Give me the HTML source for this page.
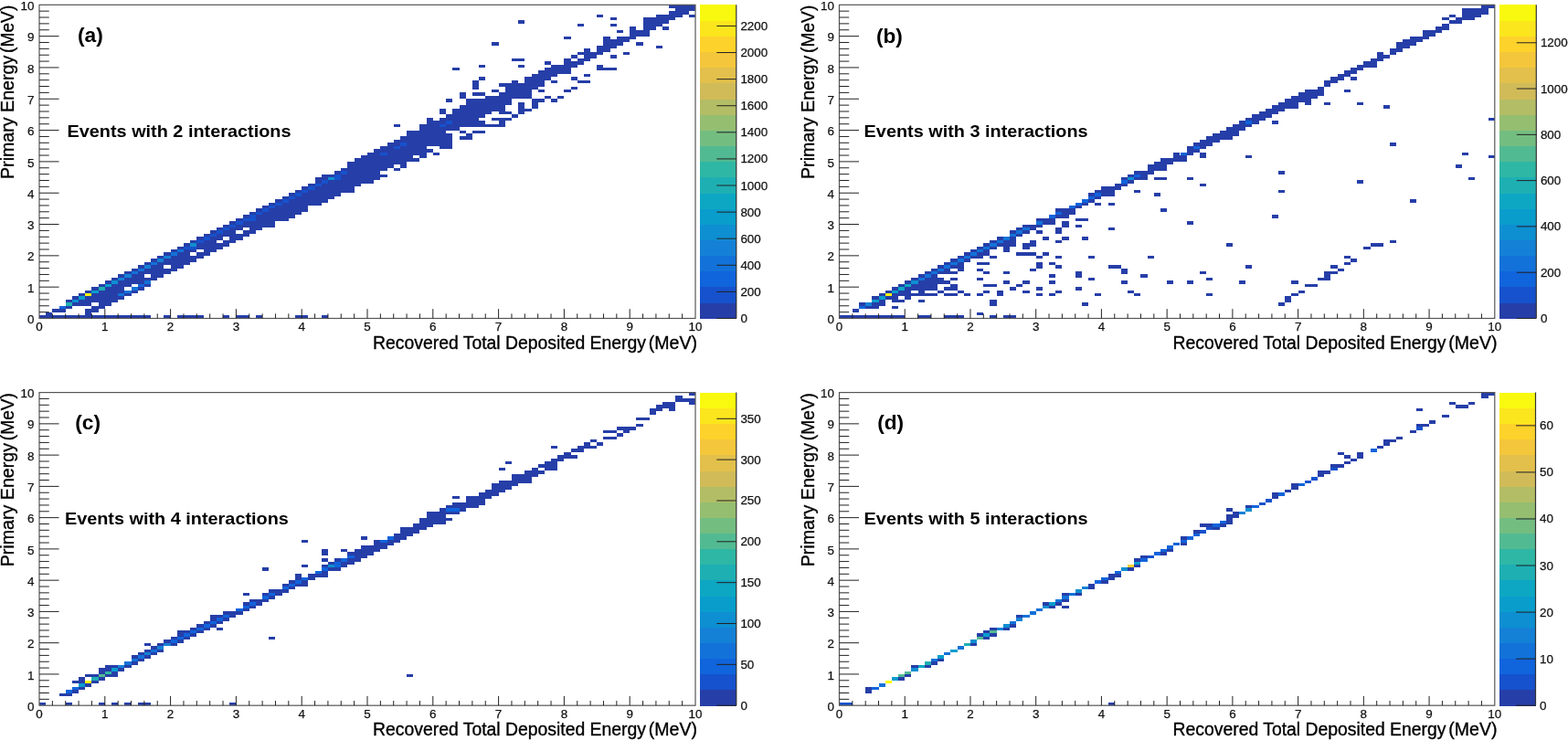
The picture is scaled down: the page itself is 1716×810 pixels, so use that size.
<!DOCTYPE html>
<html><head><meta charset="utf-8"><style>
html,body{margin:0;padding:0;background:#fff;overflow:hidden}
svg{display:block}
.t{font-family:'Liberation Sans', Arial, sans-serif;font-size:13.4px;fill:#111;stroke:#111;stroke-width:0.25px}
.ti{font-family:'Liberation Sans', Arial, sans-serif;font-size:20px;fill:#000;stroke:#000;stroke-width:0.35px}
.lb{font-family:'Liberation Sans', Arial, sans-serif;font-size:21.6px;font-weight:bold;fill:#000}
.ev{font-family:'Liberation Sans', Arial, sans-serif;font-size:19px;font-weight:bold;fill:#000}
</style></head><body>
<svg width="1716" height="810" viewBox="0 0 1716 810">
<rect width="1716" height="810" fill="#fff"/>
<rect x="43.00" y="345.07" width="122.06" height="3.43" fill="#263ea8" shape-rendering="crispEdges"/>
<rect x="179.42" y="345.07" width="7.18" height="3.43" fill="#263ea8" shape-rendering="crispEdges"/>
<rect x="50.18" y="341.64" width="7.18" height="3.43" fill="#263ea8" shape-rendering="crispEdges"/>
<rect x="93.26" y="341.64" width="7.18" height="3.43" fill="#263ea8" shape-rendering="crispEdges"/>
<rect x="57.36" y="338.20" width="14.36" height="3.43" fill="#263ea8" shape-rendering="crispEdges"/>
<rect x="93.26" y="338.20" width="14.36" height="3.43" fill="#263ea8" shape-rendering="crispEdges"/>
<rect x="64.54" y="334.77" width="7.18" height="3.43" fill="#1064dc" shape-rendering="crispEdges"/>
<rect x="71.72" y="334.77" width="7.18" height="3.43" fill="#263ea8" shape-rendering="crispEdges"/>
<rect x="100.44" y="334.77" width="14.36" height="3.43" fill="#263ea8" shape-rendering="crispEdges"/>
<rect x="71.72" y="331.34" width="7.18" height="3.43" fill="#1eafb3" shape-rendering="crispEdges"/>
<rect x="78.90" y="331.34" width="21.54" height="3.43" fill="#263ea8" shape-rendering="crispEdges"/>
<rect x="107.62" y="331.34" width="14.36" height="3.43" fill="#263ea8" shape-rendering="crispEdges"/>
<rect x="71.72" y="327.91" width="7.18" height="3.43" fill="#263ea8" shape-rendering="crispEdges"/>
<rect x="78.90" y="327.91" width="7.18" height="3.43" fill="#0e8fd1" shape-rendering="crispEdges"/>
<rect x="86.08" y="327.91" width="43.08" height="3.43" fill="#263ea8" shape-rendering="crispEdges"/>
<rect x="78.90" y="324.48" width="7.18" height="3.43" fill="#263ea8" shape-rendering="crispEdges"/>
<rect x="86.08" y="324.48" width="7.18" height="3.43" fill="#099dcc" shape-rendering="crispEdges"/>
<rect x="93.26" y="324.48" width="43.08" height="3.43" fill="#263ea8" shape-rendering="crispEdges"/>
<rect x="86.08" y="321.04" width="7.18" height="3.43" fill="#263ea8" shape-rendering="crispEdges"/>
<rect x="93.26" y="321.04" width="7.18" height="3.43" fill="#f9f90f" shape-rendering="crispEdges"/>
<rect x="100.44" y="321.04" width="28.72" height="3.43" fill="#263ea8" shape-rendering="crispEdges"/>
<rect x="129.16" y="321.04" width="7.18" height="3.43" fill="#1272d9" shape-rendering="crispEdges"/>
<rect x="136.34" y="321.04" width="7.18" height="3.43" fill="#263ea8" shape-rendering="crispEdges"/>
<rect x="93.26" y="317.61" width="7.18" height="3.43" fill="#263ea8" shape-rendering="crispEdges"/>
<rect x="100.44" y="317.61" width="7.18" height="3.43" fill="#099dcc" shape-rendering="crispEdges"/>
<rect x="107.62" y="317.61" width="28.72" height="3.43" fill="#263ea8" shape-rendering="crispEdges"/>
<rect x="136.34" y="317.61" width="7.18" height="3.43" fill="#1272d9" shape-rendering="crispEdges"/>
<rect x="143.52" y="317.61" width="7.18" height="3.43" fill="#263ea8" shape-rendering="crispEdges"/>
<rect x="100.44" y="314.18" width="7.18" height="3.43" fill="#263ea8" shape-rendering="crispEdges"/>
<rect x="107.62" y="314.18" width="7.18" height="3.43" fill="#1eafb3" shape-rendering="crispEdges"/>
<rect x="114.80" y="314.18" width="21.54" height="3.43" fill="#263ea8" shape-rendering="crispEdges"/>
<rect x="143.52" y="314.18" width="7.18" height="3.43" fill="#1272d9" shape-rendering="crispEdges"/>
<rect x="150.70" y="314.18" width="7.18" height="3.43" fill="#263ea8" shape-rendering="crispEdges"/>
<rect x="107.62" y="310.75" width="7.18" height="3.43" fill="#263ea8" shape-rendering="crispEdges"/>
<rect x="114.80" y="310.75" width="7.18" height="3.43" fill="#099dcc" shape-rendering="crispEdges"/>
<rect x="121.98" y="310.75" width="21.54" height="3.43" fill="#263ea8" shape-rendering="crispEdges"/>
<rect x="150.70" y="310.75" width="7.18" height="3.43" fill="#1064dc" shape-rendering="crispEdges"/>
<rect x="157.88" y="310.75" width="7.18" height="3.43" fill="#263ea8" shape-rendering="crispEdges"/>
<rect x="114.80" y="307.32" width="7.18" height="3.43" fill="#263ea8" shape-rendering="crispEdges"/>
<rect x="121.98" y="307.32" width="7.18" height="3.43" fill="#0e8fd1" shape-rendering="crispEdges"/>
<rect x="129.16" y="307.32" width="28.72" height="3.43" fill="#263ea8" shape-rendering="crispEdges"/>
<rect x="157.88" y="307.32" width="7.18" height="3.43" fill="#1272d9" shape-rendering="crispEdges"/>
<rect x="121.98" y="303.88" width="7.18" height="3.43" fill="#263ea8" shape-rendering="crispEdges"/>
<rect x="129.16" y="303.88" width="7.18" height="3.43" fill="#1481d6" shape-rendering="crispEdges"/>
<rect x="136.34" y="303.88" width="35.90" height="3.43" fill="#263ea8" shape-rendering="crispEdges"/>
<rect x="129.16" y="300.45" width="7.18" height="3.43" fill="#263ea8" shape-rendering="crispEdges"/>
<rect x="136.34" y="300.45" width="7.18" height="3.43" fill="#1481d6" shape-rendering="crispEdges"/>
<rect x="143.52" y="300.45" width="14.36" height="3.43" fill="#263ea8" shape-rendering="crispEdges"/>
<rect x="165.06" y="300.45" width="14.36" height="3.43" fill="#263ea8" shape-rendering="crispEdges"/>
<rect x="136.34" y="297.02" width="7.18" height="3.43" fill="#263ea8" shape-rendering="crispEdges"/>
<rect x="143.52" y="297.02" width="7.18" height="3.43" fill="#1272d9" shape-rendering="crispEdges"/>
<rect x="150.70" y="297.02" width="35.90" height="3.43" fill="#263ea8" shape-rendering="crispEdges"/>
<rect x="143.52" y="293.59" width="7.18" height="3.43" fill="#263ea8" shape-rendering="crispEdges"/>
<rect x="150.70" y="293.59" width="7.18" height="3.43" fill="#1272d9" shape-rendering="crispEdges"/>
<rect x="157.88" y="293.59" width="28.72" height="3.43" fill="#263ea8" shape-rendering="crispEdges"/>
<rect x="150.70" y="290.16" width="7.18" height="3.43" fill="#263ea8" shape-rendering="crispEdges"/>
<rect x="157.88" y="290.16" width="7.18" height="3.43" fill="#1481d6" shape-rendering="crispEdges"/>
<rect x="165.06" y="290.16" width="14.36" height="3.43" fill="#263ea8" shape-rendering="crispEdges"/>
<rect x="157.88" y="286.72" width="7.18" height="3.43" fill="#263ea8" shape-rendering="crispEdges"/>
<rect x="165.06" y="286.72" width="7.18" height="3.43" fill="#1272d9" shape-rendering="crispEdges"/>
<rect x="172.24" y="286.72" width="14.36" height="3.43" fill="#263ea8" shape-rendering="crispEdges"/>
<rect x="165.06" y="283.29" width="7.18" height="3.43" fill="#263ea8" shape-rendering="crispEdges"/>
<rect x="172.24" y="283.29" width="7.18" height="3.43" fill="#1481d6" shape-rendering="crispEdges"/>
<rect x="179.42" y="283.29" width="7.18" height="3.43" fill="#263ea8" shape-rendering="crispEdges"/>
<rect x="172.24" y="279.86" width="7.18" height="3.43" fill="#263ea8" shape-rendering="crispEdges"/>
<rect x="179.42" y="279.86" width="7.18" height="3.43" fill="#1481d6" shape-rendering="crispEdges"/>
<rect x="179.42" y="276.43" width="7.18" height="3.43" fill="#263ea8" shape-rendering="crispEdges"/>
<rect x="186.60" y="293.59" width="7.18" height="3.43" fill="#263ea8" shape-rendering="crispEdges"/>
<rect x="186.60" y="290.16" width="14.36" height="3.43" fill="#263ea8" shape-rendering="crispEdges"/>
<rect x="186.60" y="286.72" width="21.54" height="3.43" fill="#263ea8" shape-rendering="crispEdges"/>
<rect x="186.60" y="283.29" width="28.72" height="3.43" fill="#263ea8" shape-rendering="crispEdges"/>
<rect x="186.60" y="279.86" width="35.90" height="3.43" fill="#263ea8" shape-rendering="crispEdges"/>
<rect x="186.60" y="276.43" width="7.18" height="3.43" fill="#1272d9" shape-rendering="crispEdges"/>
<rect x="193.78" y="276.43" width="14.36" height="3.43" fill="#263ea8" shape-rendering="crispEdges"/>
<rect x="215.32" y="276.43" width="14.36" height="3.43" fill="#263ea8" shape-rendering="crispEdges"/>
<rect x="186.60" y="273.00" width="7.18" height="3.43" fill="#263ea8" shape-rendering="crispEdges"/>
<rect x="193.78" y="273.00" width="7.18" height="3.43" fill="#1272d9" shape-rendering="crispEdges"/>
<rect x="200.96" y="273.00" width="14.36" height="3.43" fill="#263ea8" shape-rendering="crispEdges"/>
<rect x="222.50" y="273.00" width="14.36" height="3.43" fill="#263ea8" shape-rendering="crispEdges"/>
<rect x="193.78" y="269.56" width="7.18" height="3.43" fill="#263ea8" shape-rendering="crispEdges"/>
<rect x="200.96" y="269.56" width="7.18" height="3.43" fill="#1652cd" shape-rendering="crispEdges"/>
<rect x="208.14" y="269.56" width="7.18" height="3.43" fill="#1652cd" shape-rendering="crispEdges"/>
<rect x="215.32" y="269.56" width="28.72" height="3.43" fill="#263ea8" shape-rendering="crispEdges"/>
<rect x="200.96" y="266.13" width="7.18" height="3.43" fill="#263ea8" shape-rendering="crispEdges"/>
<rect x="208.14" y="266.13" width="7.18" height="3.43" fill="#0e8fd1" shape-rendering="crispEdges"/>
<rect x="215.32" y="266.13" width="35.90" height="3.43" fill="#263ea8" shape-rendering="crispEdges"/>
<rect x="208.14" y="262.70" width="7.18" height="3.43" fill="#263ea8" shape-rendering="crispEdges"/>
<rect x="215.32" y="262.70" width="7.18" height="3.43" fill="#1652cd" shape-rendering="crispEdges"/>
<rect x="222.50" y="262.70" width="14.36" height="3.43" fill="#263ea8" shape-rendering="crispEdges"/>
<rect x="244.04" y="262.70" width="14.36" height="3.43" fill="#263ea8" shape-rendering="crispEdges"/>
<rect x="215.32" y="259.27" width="7.18" height="3.43" fill="#263ea8" shape-rendering="crispEdges"/>
<rect x="222.50" y="259.27" width="7.18" height="3.43" fill="#1652cd" shape-rendering="crispEdges"/>
<rect x="229.68" y="259.27" width="14.36" height="3.43" fill="#263ea8" shape-rendering="crispEdges"/>
<rect x="251.22" y="259.27" width="14.36" height="3.43" fill="#263ea8" shape-rendering="crispEdges"/>
<rect x="222.50" y="255.84" width="7.18" height="3.43" fill="#263ea8" shape-rendering="crispEdges"/>
<rect x="229.68" y="255.84" width="7.18" height="3.43" fill="#1652cd" shape-rendering="crispEdges"/>
<rect x="236.86" y="255.84" width="35.90" height="3.43" fill="#263ea8" shape-rendering="crispEdges"/>
<rect x="229.68" y="252.40" width="7.18" height="3.43" fill="#263ea8" shape-rendering="crispEdges"/>
<rect x="236.86" y="252.40" width="7.18" height="3.43" fill="#1652cd" shape-rendering="crispEdges"/>
<rect x="244.04" y="252.40" width="14.36" height="3.43" fill="#263ea8" shape-rendering="crispEdges"/>
<rect x="265.58" y="252.40" width="14.36" height="3.43" fill="#263ea8" shape-rendering="crispEdges"/>
<rect x="236.86" y="248.97" width="7.18" height="3.43" fill="#263ea8" shape-rendering="crispEdges"/>
<rect x="244.04" y="248.97" width="7.18" height="3.43" fill="#1652cd" shape-rendering="crispEdges"/>
<rect x="251.22" y="248.97" width="14.36" height="3.43" fill="#263ea8" shape-rendering="crispEdges"/>
<rect x="272.76" y="248.97" width="14.36" height="3.43" fill="#263ea8" shape-rendering="crispEdges"/>
<rect x="244.04" y="245.54" width="7.18" height="3.43" fill="#263ea8" shape-rendering="crispEdges"/>
<rect x="251.22" y="245.54" width="7.18" height="3.43" fill="#1652cd" shape-rendering="crispEdges"/>
<rect x="258.40" y="245.54" width="43.08" height="3.43" fill="#263ea8" shape-rendering="crispEdges"/>
<rect x="251.22" y="242.11" width="7.18" height="3.43" fill="#263ea8" shape-rendering="crispEdges"/>
<rect x="258.40" y="242.11" width="7.18" height="3.43" fill="#1652cd" shape-rendering="crispEdges"/>
<rect x="265.58" y="242.11" width="35.90" height="3.43" fill="#263ea8" shape-rendering="crispEdges"/>
<rect x="258.40" y="238.68" width="7.18" height="3.43" fill="#263ea8" shape-rendering="crispEdges"/>
<rect x="265.58" y="238.68" width="7.18" height="3.43" fill="#1652cd" shape-rendering="crispEdges"/>
<rect x="272.76" y="238.68" width="7.18" height="3.43" fill="#1652cd" shape-rendering="crispEdges"/>
<rect x="279.94" y="238.68" width="35.90" height="3.43" fill="#263ea8" shape-rendering="crispEdges"/>
<rect x="265.58" y="235.24" width="7.18" height="3.43" fill="#263ea8" shape-rendering="crispEdges"/>
<rect x="272.76" y="235.24" width="7.18" height="3.43" fill="#1652cd" shape-rendering="crispEdges"/>
<rect x="279.94" y="235.24" width="35.90" height="3.43" fill="#263ea8" shape-rendering="crispEdges"/>
<rect x="272.76" y="231.81" width="7.18" height="3.43" fill="#263ea8" shape-rendering="crispEdges"/>
<rect x="279.94" y="231.81" width="7.18" height="3.43" fill="#1652cd" shape-rendering="crispEdges"/>
<rect x="287.12" y="231.81" width="28.72" height="3.43" fill="#263ea8" shape-rendering="crispEdges"/>
<rect x="279.94" y="228.38" width="7.18" height="3.43" fill="#263ea8" shape-rendering="crispEdges"/>
<rect x="287.12" y="228.38" width="7.18" height="3.43" fill="#1652cd" shape-rendering="crispEdges"/>
<rect x="294.30" y="228.38" width="21.54" height="3.43" fill="#263ea8" shape-rendering="crispEdges"/>
<rect x="287.12" y="224.95" width="7.18" height="3.43" fill="#263ea8" shape-rendering="crispEdges"/>
<rect x="294.30" y="224.95" width="7.18" height="3.43" fill="#1652cd" shape-rendering="crispEdges"/>
<rect x="301.48" y="224.95" width="14.36" height="3.43" fill="#263ea8" shape-rendering="crispEdges"/>
<rect x="315.84" y="235.24" width="7.18" height="3.43" fill="#263ea8" shape-rendering="crispEdges"/>
<rect x="315.84" y="231.81" width="14.36" height="3.43" fill="#263ea8" shape-rendering="crispEdges"/>
<rect x="315.84" y="228.38" width="21.54" height="3.43" fill="#263ea8" shape-rendering="crispEdges"/>
<rect x="315.84" y="224.95" width="21.54" height="3.43" fill="#263ea8" shape-rendering="crispEdges"/>
<rect x="294.30" y="221.52" width="7.18" height="3.43" fill="#263ea8" shape-rendering="crispEdges"/>
<rect x="301.48" y="221.52" width="7.18" height="3.43" fill="#1652cd" shape-rendering="crispEdges"/>
<rect x="308.66" y="221.52" width="43.08" height="3.43" fill="#263ea8" shape-rendering="crispEdges"/>
<rect x="301.48" y="218.08" width="7.18" height="3.43" fill="#263ea8" shape-rendering="crispEdges"/>
<rect x="308.66" y="218.08" width="7.18" height="3.43" fill="#1652cd" shape-rendering="crispEdges"/>
<rect x="315.84" y="218.08" width="43.08" height="3.43" fill="#263ea8" shape-rendering="crispEdges"/>
<rect x="308.66" y="214.65" width="7.18" height="3.43" fill="#263ea8" shape-rendering="crispEdges"/>
<rect x="315.84" y="214.65" width="7.18" height="3.43" fill="#1652cd" shape-rendering="crispEdges"/>
<rect x="323.02" y="214.65" width="43.08" height="3.43" fill="#263ea8" shape-rendering="crispEdges"/>
<rect x="315.84" y="211.22" width="7.18" height="3.43" fill="#263ea8" shape-rendering="crispEdges"/>
<rect x="323.02" y="211.22" width="7.18" height="3.43" fill="#1652cd" shape-rendering="crispEdges"/>
<rect x="330.20" y="211.22" width="43.08" height="3.43" fill="#263ea8" shape-rendering="crispEdges"/>
<rect x="323.02" y="207.79" width="7.18" height="3.43" fill="#263ea8" shape-rendering="crispEdges"/>
<rect x="330.20" y="207.79" width="7.18" height="3.43" fill="#1652cd" shape-rendering="crispEdges"/>
<rect x="337.38" y="207.79" width="50.26" height="3.43" fill="#263ea8" shape-rendering="crispEdges"/>
<rect x="330.20" y="204.36" width="7.18" height="3.43" fill="#263ea8" shape-rendering="crispEdges"/>
<rect x="337.38" y="204.36" width="7.18" height="3.43" fill="#1652cd" shape-rendering="crispEdges"/>
<rect x="344.56" y="204.36" width="43.08" height="3.43" fill="#263ea8" shape-rendering="crispEdges"/>
<rect x="337.38" y="200.92" width="7.18" height="3.43" fill="#263ea8" shape-rendering="crispEdges"/>
<rect x="344.56" y="200.92" width="7.18" height="3.43" fill="#1652cd" shape-rendering="crispEdges"/>
<rect x="351.74" y="200.92" width="43.08" height="3.43" fill="#263ea8" shape-rendering="crispEdges"/>
<rect x="344.56" y="197.49" width="7.18" height="3.43" fill="#263ea8" shape-rendering="crispEdges"/>
<rect x="351.74" y="197.49" width="7.18" height="3.43" fill="#1652cd" shape-rendering="crispEdges"/>
<rect x="358.92" y="197.49" width="50.26" height="3.43" fill="#263ea8" shape-rendering="crispEdges"/>
<rect x="344.56" y="194.06" width="14.36" height="3.43" fill="#263ea8" shape-rendering="crispEdges"/>
<rect x="358.92" y="194.06" width="7.18" height="3.43" fill="#0e8fd1" shape-rendering="crispEdges"/>
<rect x="366.10" y="194.06" width="7.18" height="3.43" fill="#1652cd" shape-rendering="crispEdges"/>
<rect x="373.28" y="194.06" width="43.08" height="3.43" fill="#263ea8" shape-rendering="crispEdges"/>
<rect x="351.74" y="190.63" width="14.36" height="3.43" fill="#263ea8" shape-rendering="crispEdges"/>
<rect x="366.10" y="190.63" width="7.18" height="3.43" fill="#1652cd" shape-rendering="crispEdges"/>
<rect x="373.28" y="190.63" width="50.26" height="3.43" fill="#263ea8" shape-rendering="crispEdges"/>
<rect x="366.10" y="187.20" width="7.18" height="3.43" fill="#263ea8" shape-rendering="crispEdges"/>
<rect x="373.28" y="187.20" width="7.18" height="3.43" fill="#1652cd" shape-rendering="crispEdges"/>
<rect x="380.46" y="187.20" width="35.90" height="3.43" fill="#263ea8" shape-rendering="crispEdges"/>
<rect x="373.28" y="183.76" width="50.26" height="3.43" fill="#263ea8" shape-rendering="crispEdges"/>
<rect x="430.72" y="183.76" width="7.18" height="3.43" fill="#263ea8" shape-rendering="crispEdges"/>
<rect x="380.46" y="180.33" width="50.26" height="3.43" fill="#263ea8" shape-rendering="crispEdges"/>
<rect x="437.90" y="180.33" width="7.18" height="3.43" fill="#263ea8" shape-rendering="crispEdges"/>
<rect x="380.46" y="176.90" width="64.62" height="3.43" fill="#263ea8" shape-rendering="crispEdges"/>
<rect x="387.64" y="173.47" width="57.44" height="3.43" fill="#263ea8" shape-rendering="crispEdges"/>
<rect x="394.82" y="170.04" width="50.26" height="3.43" fill="#263ea8" shape-rendering="crispEdges"/>
<rect x="402.00" y="166.60" width="14.36" height="3.43" fill="#263ea8" shape-rendering="crispEdges"/>
<rect x="416.36" y="166.60" width="7.18" height="3.43" fill="#1652cd" shape-rendering="crispEdges"/>
<rect x="423.54" y="166.60" width="21.54" height="3.43" fill="#263ea8" shape-rendering="crispEdges"/>
<rect x="409.18" y="163.17" width="35.90" height="3.43" fill="#263ea8" shape-rendering="crispEdges"/>
<rect x="445.08" y="173.47" width="14.36" height="3.43" fill="#263ea8" shape-rendering="crispEdges"/>
<rect x="445.08" y="170.04" width="7.18" height="3.43" fill="#263ea8" shape-rendering="crispEdges"/>
<rect x="459.44" y="170.04" width="7.18" height="3.43" fill="#263ea8" shape-rendering="crispEdges"/>
<rect x="445.08" y="166.60" width="21.54" height="3.43" fill="#263ea8" shape-rendering="crispEdges"/>
<rect x="473.80" y="166.60" width="7.18" height="3.43" fill="#263ea8" shape-rendering="crispEdges"/>
<rect x="445.08" y="163.17" width="28.72" height="3.43" fill="#263ea8" shape-rendering="crispEdges"/>
<rect x="423.54" y="159.74" width="7.18" height="3.43" fill="#263ea8" shape-rendering="crispEdges"/>
<rect x="430.72" y="159.74" width="7.18" height="3.43" fill="#1652cd" shape-rendering="crispEdges"/>
<rect x="437.90" y="159.74" width="28.72" height="3.43" fill="#263ea8" shape-rendering="crispEdges"/>
<rect x="480.98" y="159.74" width="14.36" height="3.43" fill="#263ea8" shape-rendering="crispEdges"/>
<rect x="430.72" y="156.31" width="7.18" height="3.43" fill="#263ea8" shape-rendering="crispEdges"/>
<rect x="437.90" y="156.31" width="7.18" height="3.43" fill="#1652cd" shape-rendering="crispEdges"/>
<rect x="445.08" y="156.31" width="50.26" height="3.43" fill="#263ea8" shape-rendering="crispEdges"/>
<rect x="430.72" y="152.88" width="64.62" height="3.43" fill="#263ea8" shape-rendering="crispEdges"/>
<rect x="437.90" y="149.44" width="57.44" height="3.43" fill="#263ea8" shape-rendering="crispEdges"/>
<rect x="502.52" y="149.44" width="14.36" height="3.43" fill="#263ea8" shape-rendering="crispEdges"/>
<rect x="445.08" y="146.01" width="50.26" height="3.43" fill="#263ea8" shape-rendering="crispEdges"/>
<rect x="509.70" y="146.01" width="7.18" height="3.43" fill="#263ea8" shape-rendering="crispEdges"/>
<rect x="445.08" y="142.58" width="43.08" height="3.43" fill="#263ea8" shape-rendering="crispEdges"/>
<rect x="502.52" y="142.58" width="7.18" height="3.43" fill="#263ea8" shape-rendering="crispEdges"/>
<rect x="516.88" y="142.58" width="14.36" height="3.43" fill="#263ea8" shape-rendering="crispEdges"/>
<rect x="459.44" y="139.15" width="43.08" height="3.43" fill="#263ea8" shape-rendering="crispEdges"/>
<rect x="459.44" y="135.72" width="21.54" height="3.43" fill="#263ea8" shape-rendering="crispEdges"/>
<rect x="480.98" y="135.72" width="7.18" height="3.43" fill="#1652cd" shape-rendering="crispEdges"/>
<rect x="488.16" y="135.72" width="64.62" height="3.43" fill="#263ea8" shape-rendering="crispEdges"/>
<rect x="466.62" y="132.28" width="21.54" height="3.43" fill="#263ea8" shape-rendering="crispEdges"/>
<rect x="488.16" y="132.28" width="7.18" height="3.43" fill="#1652cd" shape-rendering="crispEdges"/>
<rect x="495.34" y="132.28" width="35.90" height="3.43" fill="#263ea8" shape-rendering="crispEdges"/>
<rect x="545.60" y="132.28" width="7.18" height="3.43" fill="#263ea8" shape-rendering="crispEdges"/>
<rect x="466.62" y="128.85" width="7.18" height="3.43" fill="#263ea8" shape-rendering="crispEdges"/>
<rect x="480.98" y="128.85" width="43.08" height="3.43" fill="#263ea8" shape-rendering="crispEdges"/>
<rect x="538.42" y="128.85" width="21.54" height="3.43" fill="#263ea8" shape-rendering="crispEdges"/>
<rect x="488.16" y="125.42" width="43.08" height="3.43" fill="#263ea8" shape-rendering="crispEdges"/>
<rect x="559.96" y="125.42" width="7.18" height="3.43" fill="#263ea8" shape-rendering="crispEdges"/>
<rect x="480.98" y="121.99" width="7.18" height="3.43" fill="#263ea8" shape-rendering="crispEdges"/>
<rect x="495.34" y="121.99" width="43.08" height="3.43" fill="#263ea8" shape-rendering="crispEdges"/>
<rect x="545.60" y="121.99" width="14.36" height="3.43" fill="#263ea8" shape-rendering="crispEdges"/>
<rect x="567.14" y="121.99" width="7.18" height="3.43" fill="#263ea8" shape-rendering="crispEdges"/>
<rect x="480.98" y="118.56" width="7.18" height="3.43" fill="#263ea8" shape-rendering="crispEdges"/>
<rect x="495.34" y="118.56" width="57.44" height="3.43" fill="#263ea8" shape-rendering="crispEdges"/>
<rect x="567.14" y="118.56" width="7.18" height="3.43" fill="#263ea8" shape-rendering="crispEdges"/>
<rect x="502.52" y="115.12" width="50.26" height="3.43" fill="#263ea8" shape-rendering="crispEdges"/>
<rect x="567.14" y="115.12" width="7.18" height="3.43" fill="#263ea8" shape-rendering="crispEdges"/>
<rect x="509.70" y="111.69" width="50.26" height="3.43" fill="#263ea8" shape-rendering="crispEdges"/>
<rect x="567.14" y="111.69" width="7.18" height="3.43" fill="#263ea8" shape-rendering="crispEdges"/>
<rect x="488.16" y="108.26" width="7.18" height="3.43" fill="#263ea8" shape-rendering="crispEdges"/>
<rect x="509.70" y="108.26" width="50.26" height="3.43" fill="#263ea8" shape-rendering="crispEdges"/>
<rect x="574.32" y="118.56" width="7.18" height="3.43" fill="#263ea8" shape-rendering="crispEdges"/>
<rect x="581.50" y="115.12" width="7.18" height="3.43" fill="#263ea8" shape-rendering="crispEdges"/>
<rect x="581.50" y="111.69" width="7.18" height="3.43" fill="#263ea8" shape-rendering="crispEdges"/>
<rect x="581.50" y="108.26" width="14.36" height="3.43" fill="#263ea8" shape-rendering="crispEdges"/>
<rect x="603.04" y="108.26" width="7.18" height="3.43" fill="#263ea8" shape-rendering="crispEdges"/>
<rect x="531.24" y="104.83" width="50.26" height="3.43" fill="#263ea8" shape-rendering="crispEdges"/>
<rect x="595.86" y="104.83" width="7.18" height="3.43" fill="#263ea8" shape-rendering="crispEdges"/>
<rect x="610.22" y="104.83" width="7.18" height="3.43" fill="#263ea8" shape-rendering="crispEdges"/>
<rect x="545.60" y="101.40" width="35.90" height="3.43" fill="#263ea8" shape-rendering="crispEdges"/>
<rect x="538.42" y="97.96" width="7.18" height="3.43" fill="#263ea8" shape-rendering="crispEdges"/>
<rect x="552.78" y="97.96" width="28.72" height="3.43" fill="#263ea8" shape-rendering="crispEdges"/>
<rect x="588.68" y="97.96" width="7.18" height="3.43" fill="#263ea8" shape-rendering="crispEdges"/>
<rect x="617.40" y="97.96" width="7.18" height="3.43" fill="#263ea8" shape-rendering="crispEdges"/>
<rect x="552.78" y="94.53" width="35.90" height="3.43" fill="#263ea8" shape-rendering="crispEdges"/>
<rect x="624.58" y="94.53" width="7.18" height="3.43" fill="#263ea8" shape-rendering="crispEdges"/>
<rect x="545.60" y="91.10" width="50.26" height="3.43" fill="#263ea8" shape-rendering="crispEdges"/>
<rect x="559.96" y="87.67" width="7.18" height="3.43" fill="#263ea8" shape-rendering="crispEdges"/>
<rect x="574.32" y="87.67" width="21.54" height="3.43" fill="#263ea8" shape-rendering="crispEdges"/>
<rect x="603.04" y="87.67" width="7.18" height="3.43" fill="#263ea8" shape-rendering="crispEdges"/>
<rect x="631.76" y="87.67" width="14.36" height="3.43" fill="#263ea8" shape-rendering="crispEdges"/>
<rect x="574.32" y="84.24" width="28.72" height="3.43" fill="#263ea8" shape-rendering="crispEdges"/>
<rect x="624.58" y="84.24" width="7.18" height="3.43" fill="#263ea8" shape-rendering="crispEdges"/>
<rect x="581.50" y="80.80" width="28.72" height="3.43" fill="#263ea8" shape-rendering="crispEdges"/>
<rect x="638.94" y="80.80" width="7.18" height="3.43" fill="#263ea8" shape-rendering="crispEdges"/>
<rect x="588.68" y="77.37" width="35.90" height="3.43" fill="#263ea8" shape-rendering="crispEdges"/>
<rect x="595.86" y="73.94" width="28.72" height="3.43" fill="#263ea8" shape-rendering="crispEdges"/>
<rect x="653.30" y="73.94" width="21.54" height="3.43" fill="#263ea8" shape-rendering="crispEdges"/>
<rect x="567.14" y="70.51" width="7.18" height="3.43" fill="#263ea8" shape-rendering="crispEdges"/>
<rect x="603.04" y="70.51" width="28.72" height="3.43" fill="#263ea8" shape-rendering="crispEdges"/>
<rect x="653.30" y="70.51" width="7.18" height="3.43" fill="#263ea8" shape-rendering="crispEdges"/>
<rect x="595.86" y="67.08" width="7.18" height="3.43" fill="#263ea8" shape-rendering="crispEdges"/>
<rect x="617.40" y="67.08" width="21.54" height="3.43" fill="#263ea8" shape-rendering="crispEdges"/>
<rect x="559.96" y="63.64" width="14.36" height="3.43" fill="#263ea8" shape-rendering="crispEdges"/>
<rect x="617.40" y="63.64" width="7.18" height="3.43" fill="#263ea8" shape-rendering="crispEdges"/>
<rect x="631.76" y="63.64" width="14.36" height="3.43" fill="#263ea8" shape-rendering="crispEdges"/>
<rect x="624.58" y="60.21" width="7.18" height="3.43" fill="#263ea8" shape-rendering="crispEdges"/>
<rect x="638.94" y="60.21" width="14.36" height="3.43" fill="#263ea8" shape-rendering="crispEdges"/>
<rect x="667.66" y="60.21" width="7.18" height="3.43" fill="#263ea8" shape-rendering="crispEdges"/>
<rect x="631.76" y="56.78" width="28.72" height="3.43" fill="#263ea8" shape-rendering="crispEdges"/>
<rect x="682.02" y="56.78" width="7.18" height="3.43" fill="#263ea8" shape-rendering="crispEdges"/>
<rect x="638.94" y="53.35" width="7.18" height="3.43" fill="#263ea8" shape-rendering="crispEdges"/>
<rect x="653.30" y="53.35" width="14.36" height="3.43" fill="#263ea8" shape-rendering="crispEdges"/>
<rect x="653.30" y="49.92" width="21.54" height="3.43" fill="#263ea8" shape-rendering="crispEdges"/>
<rect x="660.48" y="46.48" width="21.54" height="3.43" fill="#263ea8" shape-rendering="crispEdges"/>
<rect x="660.48" y="43.05" width="28.72" height="3.43" fill="#263ea8" shape-rendering="crispEdges"/>
<rect x="617.40" y="39.62" width="7.18" height="3.43" fill="#263ea8" shape-rendering="crispEdges"/>
<rect x="660.48" y="39.62" width="7.18" height="3.43" fill="#263ea8" shape-rendering="crispEdges"/>
<rect x="674.84" y="39.62" width="14.36" height="3.43" fill="#263ea8" shape-rendering="crispEdges"/>
<rect x="717.92" y="49.92" width="7.18" height="3.43" fill="#263ea8" shape-rendering="crispEdges"/>
<rect x="696.38" y="46.48" width="7.18" height="3.43" fill="#263ea8" shape-rendering="crispEdges"/>
<rect x="689.20" y="39.62" width="7.18" height="3.43" fill="#263ea8" shape-rendering="crispEdges"/>
<rect x="689.20" y="36.19" width="21.54" height="3.43" fill="#263ea8" shape-rendering="crispEdges"/>
<rect x="674.84" y="32.76" width="7.18" height="3.43" fill="#263ea8" shape-rendering="crispEdges"/>
<rect x="689.20" y="32.76" width="21.54" height="3.43" fill="#263ea8" shape-rendering="crispEdges"/>
<rect x="689.20" y="29.32" width="7.18" height="3.43" fill="#263ea8" shape-rendering="crispEdges"/>
<rect x="703.56" y="29.32" width="14.36" height="3.43" fill="#263ea8" shape-rendering="crispEdges"/>
<rect x="725.10" y="29.32" width="7.18" height="3.43" fill="#263ea8" shape-rendering="crispEdges"/>
<rect x="631.76" y="25.89" width="7.18" height="3.43" fill="#263ea8" shape-rendering="crispEdges"/>
<rect x="667.66" y="25.89" width="7.18" height="3.43" fill="#263ea8" shape-rendering="crispEdges"/>
<rect x="703.56" y="25.89" width="21.54" height="3.43" fill="#263ea8" shape-rendering="crispEdges"/>
<rect x="703.56" y="22.46" width="28.72" height="3.43" fill="#263ea8" shape-rendering="crispEdges"/>
<rect x="667.66" y="19.03" width="7.18" height="3.43" fill="#263ea8" shape-rendering="crispEdges"/>
<rect x="703.56" y="19.03" width="35.90" height="3.43" fill="#263ea8" shape-rendering="crispEdges"/>
<rect x="653.30" y="15.60" width="7.18" height="3.43" fill="#263ea8" shape-rendering="crispEdges"/>
<rect x="717.92" y="15.60" width="28.72" height="3.43" fill="#263ea8" shape-rendering="crispEdges"/>
<rect x="753.82" y="15.60" width="7.18" height="3.43" fill="#263ea8" shape-rendering="crispEdges"/>
<rect x="732.28" y="12.16" width="21.54" height="3.43" fill="#263ea8" shape-rendering="crispEdges"/>
<rect x="739.46" y="8.73" width="21.54" height="3.43" fill="#263ea8" shape-rendering="crispEdges"/>
<rect x="732.28" y="5.30" width="28.72" height="3.43" fill="#263ea8" shape-rendering="crispEdges"/>
<rect x="430.72" y="135.72" width="7.18" height="3.43" fill="#263ea8" shape-rendering="crispEdges"/>
<rect x="516.88" y="94.53" width="7.18" height="3.43" fill="#263ea8" shape-rendering="crispEdges"/>
<rect x="516.88" y="91.10" width="7.18" height="3.43" fill="#263ea8" shape-rendering="crispEdges"/>
<rect x="516.88" y="87.67" width="7.18" height="3.43" fill="#263ea8" shape-rendering="crispEdges"/>
<rect x="524.06" y="84.24" width="7.18" height="3.43" fill="#263ea8" shape-rendering="crispEdges"/>
<rect x="495.34" y="73.94" width="7.18" height="3.43" fill="#263ea8" shape-rendering="crispEdges"/>
<rect x="524.06" y="70.51" width="7.18" height="3.43" fill="#263ea8" shape-rendering="crispEdges"/>
<rect x="567.14" y="22.46" width="7.18" height="3.43" fill="#263ea8" shape-rendering="crispEdges"/>
<rect x="538.42" y="46.48" width="7.18" height="3.43" fill="#263ea8" shape-rendering="crispEdges"/>
<rect x="416.36" y="159.74" width="7.18" height="3.43" fill="#263ea8" shape-rendering="crispEdges"/>
<rect x="423.54" y="156.31" width="7.18" height="3.43" fill="#263ea8" shape-rendering="crispEdges"/>
<rect x="502.52" y="104.83" width="7.18" height="3.43" fill="#263ea8" shape-rendering="crispEdges"/>
<rect x="502.52" y="101.40" width="7.18" height="3.43" fill="#263ea8" shape-rendering="crispEdges"/>
<rect x="516.88" y="101.40" width="14.36" height="3.43" fill="#263ea8" shape-rendering="crispEdges"/>
<rect x="193.78" y="345.07" width="28.72" height="3.43" fill="#263ea8" shape-rendering="crispEdges"/>
<rect x="244.04" y="345.07" width="7.18" height="3.43" fill="#263ea8" shape-rendering="crispEdges"/>
<rect x="258.40" y="345.07" width="14.36" height="3.43" fill="#263ea8" shape-rendering="crispEdges"/>
<rect x="279.94" y="345.07" width="7.18" height="3.43" fill="#263ea8" shape-rendering="crispEdges"/>
<rect x="323.02" y="345.07" width="14.36" height="3.43" fill="#263ea8" shape-rendering="crispEdges"/>
<rect x="351.74" y="345.07" width="7.18" height="3.43" fill="#263ea8" shape-rendering="crispEdges"/>
<rect x="43.0" y="5.3" width="718.00" height="343.20" fill="none" stroke="#555" stroke-width="1.2"/>
<path d="M57.36 348.50V343.35 M43.00 341.64H53.77 M71.72 348.50V343.35 M43.00 334.77H53.77 M86.08 348.50V343.35 M43.00 327.91H53.77 M100.44 348.50V343.35 M43.00 321.04H53.77 M114.80 348.50V338.20 M43.00 314.18H64.54 M129.16 348.50V343.35 M43.00 307.32H53.77 M143.52 348.50V343.35 M43.00 300.45H53.77 M157.88 348.50V343.35 M43.00 293.59H53.77 M172.24 348.50V343.35 M43.00 286.72H53.77 M186.60 348.50V338.20 M43.00 279.86H64.54 M200.96 348.50V343.35 M43.00 273.00H53.77 M215.32 348.50V343.35 M43.00 266.13H53.77 M229.68 348.50V343.35 M43.00 259.27H53.77 M244.04 348.50V343.35 M43.00 252.40H53.77 M258.40 348.50V338.20 M43.00 245.54H64.54 M272.76 348.50V343.35 M43.00 238.68H53.77 M287.12 348.50V343.35 M43.00 231.81H53.77 M301.48 348.50V343.35 M43.00 224.95H53.77 M315.84 348.50V343.35 M43.00 218.08H53.77 M330.20 348.50V338.20 M43.00 211.22H64.54 M344.56 348.50V343.35 M43.00 204.36H53.77 M358.92 348.50V343.35 M43.00 197.49H53.77 M373.28 348.50V343.35 M43.00 190.63H53.77 M387.64 348.50V343.35 M43.00 183.76H53.77 M402.00 348.50V338.20 M43.00 176.90H64.54 M416.36 348.50V343.35 M43.00 170.04H53.77 M430.72 348.50V343.35 M43.00 163.17H53.77 M445.08 348.50V343.35 M43.00 156.31H53.77 M459.44 348.50V343.35 M43.00 149.44H53.77 M473.80 348.50V338.20 M43.00 142.58H64.54 M488.16 348.50V343.35 M43.00 135.72H53.77 M502.52 348.50V343.35 M43.00 128.85H53.77 M516.88 348.50V343.35 M43.00 121.99H53.77 M531.24 348.50V343.35 M43.00 115.12H53.77 M545.60 348.50V338.20 M43.00 108.26H64.54 M559.96 348.50V343.35 M43.00 101.40H53.77 M574.32 348.50V343.35 M43.00 94.53H53.77 M588.68 348.50V343.35 M43.00 87.67H53.77 M603.04 348.50V343.35 M43.00 80.80H53.77 M617.40 348.50V338.20 M43.00 73.94H64.54 M631.76 348.50V343.35 M43.00 67.08H53.77 M646.12 348.50V343.35 M43.00 60.21H53.77 M660.48 348.50V343.35 M43.00 53.35H53.77 M674.84 348.50V343.35 M43.00 46.48H53.77 M689.20 348.50V338.20 M43.00 39.62H64.54 M703.56 348.50V343.35 M43.00 32.76H53.77 M717.92 348.50V343.35 M43.00 25.89H53.77 M732.28 348.50V343.35 M43.00 19.03H53.77 M746.64 348.50V343.35 M43.00 12.16H53.77" stroke="#222" stroke-width="1" fill="none"/>
<text x="43.00" y="362.10" text-anchor="middle" class="t">0</text>
<text x="37.40" y="354.10" text-anchor="end" class="t">0</text>
<text x="114.80" y="362.10" text-anchor="middle" class="t">1</text>
<text x="37.40" y="319.78" text-anchor="end" class="t">1</text>
<text x="186.60" y="362.10" text-anchor="middle" class="t">2</text>
<text x="37.40" y="285.46" text-anchor="end" class="t">2</text>
<text x="258.40" y="362.10" text-anchor="middle" class="t">3</text>
<text x="37.40" y="251.14" text-anchor="end" class="t">3</text>
<text x="330.20" y="362.10" text-anchor="middle" class="t">4</text>
<text x="37.40" y="216.82" text-anchor="end" class="t">4</text>
<text x="402.00" y="362.10" text-anchor="middle" class="t">5</text>
<text x="37.40" y="182.50" text-anchor="end" class="t">5</text>
<text x="473.80" y="362.10" text-anchor="middle" class="t">6</text>
<text x="37.40" y="148.18" text-anchor="end" class="t">6</text>
<text x="545.60" y="362.10" text-anchor="middle" class="t">7</text>
<text x="37.40" y="113.86" text-anchor="end" class="t">7</text>
<text x="617.40" y="362.10" text-anchor="middle" class="t">8</text>
<text x="37.40" y="79.54" text-anchor="end" class="t">8</text>
<text x="689.20" y="362.10" text-anchor="middle" class="t">9</text>
<text x="37.40" y="45.22" text-anchor="end" class="t">9</text>
<text x="761.00" y="362.10" text-anchor="middle" class="t">10</text>
<text x="37.40" y="10.90" text-anchor="end" class="t">10</text>
<text x="408.00" y="381.50" textLength="299" lengthAdjust="spacingAndGlyphs" class="ti">Recovered Total Deposited Energy</text>
<text x="709.70" y="381.50" textLength="53.3" lengthAdjust="spacingAndGlyphs" class="ti">(MeV)</text>
<text transform="translate(15.30,196.00) rotate(-90)" textLength="135.3" lengthAdjust="spacingAndGlyphs" class="ti">Primary Energy</text>
<text transform="translate(15.30,57.90) rotate(-90)" textLength="52.2" lengthAdjust="spacingAndGlyphs" class="ti">(MeV)</text>
<rect x="765.8" y="331.34" width="40.00" height="17.46" fill="#263ea8" shape-rendering="crispEdges"/>
<rect x="765.8" y="314.18" width="40.00" height="17.46" fill="#1652cd" shape-rendering="crispEdges"/>
<rect x="765.8" y="297.02" width="40.00" height="17.46" fill="#1064dc" shape-rendering="crispEdges"/>
<rect x="765.8" y="279.86" width="40.00" height="17.46" fill="#1272d9" shape-rendering="crispEdges"/>
<rect x="765.8" y="262.70" width="40.00" height="17.46" fill="#1481d6" shape-rendering="crispEdges"/>
<rect x="765.8" y="245.54" width="40.00" height="17.46" fill="#0e8fd1" shape-rendering="crispEdges"/>
<rect x="765.8" y="228.38" width="40.00" height="17.46" fill="#099dcc" shape-rendering="crispEdges"/>
<rect x="765.8" y="211.22" width="40.00" height="17.46" fill="#0da7c3" shape-rendering="crispEdges"/>
<rect x="765.8" y="194.06" width="40.00" height="17.46" fill="#1eafb3" shape-rendering="crispEdges"/>
<rect x="765.8" y="176.90" width="40.00" height="17.46" fill="#2eb7a4" shape-rendering="crispEdges"/>
<rect x="765.8" y="159.74" width="40.00" height="17.46" fill="#52ba92" shape-rendering="crispEdges"/>
<rect x="765.8" y="142.58" width="40.00" height="17.46" fill="#74bd81" shape-rendering="crispEdges"/>
<rect x="765.8" y="125.42" width="40.00" height="17.46" fill="#95be71" shape-rendering="crispEdges"/>
<rect x="765.8" y="108.26" width="40.00" height="17.46" fill="#b3bd65" shape-rendering="crispEdges"/>
<rect x="765.8" y="91.10" width="40.00" height="17.46" fill="#d1bb59" shape-rendering="crispEdges"/>
<rect x="765.8" y="73.94" width="40.00" height="17.46" fill="#e2c04b" shape-rendering="crispEdges"/>
<rect x="765.8" y="56.78" width="40.00" height="17.46" fill="#f4c63b" shape-rendering="crispEdges"/>
<rect x="765.8" y="39.62" width="40.00" height="17.46" fill="#fdd22b" shape-rendering="crispEdges"/>
<rect x="765.8" y="22.46" width="40.00" height="17.46" fill="#fbe61d" shape-rendering="crispEdges"/>
<rect x="765.8" y="5.30" width="40.00" height="17.46" fill="#f9f90f" shape-rendering="crispEdges"/>
<path d="M805.80 5.3V348.5" stroke="#333" stroke-width="1.2"/>
<text x="810.40" y="353.00" class="t">0</text>
<text x="810.40" y="323.90" class="t">200</text>
<text x="810.40" y="294.81" class="t">400</text>
<text x="810.40" y="265.71" class="t">600</text>
<text x="810.40" y="236.61" class="t">800</text>
<text x="810.40" y="207.51" class="t">1000</text>
<text x="810.40" y="178.42" class="t">1200</text>
<text x="810.40" y="149.32" class="t">1400</text>
<text x="810.40" y="120.22" class="t">1600</text>
<text x="810.40" y="91.13" class="t">1800</text>
<text x="810.40" y="62.03" class="t">2000</text>
<text x="810.40" y="32.93" class="t">2200</text>
<path d="M805.80 348.50H784.30 M805.80 319.40H784.30 M805.80 290.31H784.30 M805.80 261.21H784.30 M805.80 232.11H784.30 M805.80 203.01H784.30 M805.80 173.92H784.30 M805.80 144.82H784.30 M805.80 115.72H784.30 M805.80 86.63H784.30 M805.80 57.53H784.30 M805.80 28.43H784.30" stroke="#222" stroke-width="1" fill="none"/>
<text x="84.9" y="45.7" textLength="27.9" lengthAdjust="spacingAndGlyphs" class="lb">(a)</text>
<rect x="918.50" y="345.07" width="71.73" height="3.43" fill="#263ea8" shape-rendering="crispEdges"/>
<rect x="1004.58" y="345.07" width="14.35" height="3.43" fill="#263ea8" shape-rendering="crispEdges"/>
<rect x="1033.27" y="345.07" width="21.52" height="3.43" fill="#263ea8" shape-rendering="crispEdges"/>
<rect x="932.85" y="338.20" width="7.17" height="3.43" fill="#263ea8" shape-rendering="crispEdges"/>
<rect x="940.02" y="334.77" width="7.17" height="3.43" fill="#1064dc" shape-rendering="crispEdges"/>
<rect x="947.19" y="334.77" width="14.35" height="3.43" fill="#263ea8" shape-rendering="crispEdges"/>
<rect x="975.88" y="334.77" width="7.17" height="3.43" fill="#263ea8" shape-rendering="crispEdges"/>
<rect x="940.02" y="331.34" width="7.17" height="3.43" fill="#263ea8" shape-rendering="crispEdges"/>
<rect x="947.19" y="331.34" width="7.17" height="3.43" fill="#1481d6" shape-rendering="crispEdges"/>
<rect x="954.37" y="331.34" width="14.35" height="3.43" fill="#263ea8" shape-rendering="crispEdges"/>
<rect x="954.37" y="327.91" width="7.17" height="3.43" fill="#099dcc" shape-rendering="crispEdges"/>
<rect x="961.54" y="327.91" width="7.17" height="3.43" fill="#263ea8" shape-rendering="crispEdges"/>
<rect x="975.88" y="327.91" width="14.35" height="3.43" fill="#263ea8" shape-rendering="crispEdges"/>
<rect x="1004.58" y="327.91" width="7.17" height="3.43" fill="#263ea8" shape-rendering="crispEdges"/>
<rect x="954.37" y="324.48" width="7.17" height="3.43" fill="#263ea8" shape-rendering="crispEdges"/>
<rect x="961.54" y="324.48" width="7.17" height="3.43" fill="#099dcc" shape-rendering="crispEdges"/>
<rect x="968.71" y="324.48" width="14.35" height="3.43" fill="#263ea8" shape-rendering="crispEdges"/>
<rect x="990.23" y="324.48" width="7.17" height="3.43" fill="#263ea8" shape-rendering="crispEdges"/>
<rect x="961.54" y="321.04" width="7.17" height="3.43" fill="#263ea8" shape-rendering="crispEdges"/>
<rect x="968.71" y="321.04" width="7.17" height="3.43" fill="#f9f90f" shape-rendering="crispEdges"/>
<rect x="975.88" y="321.04" width="50.21" height="3.43" fill="#263ea8" shape-rendering="crispEdges"/>
<rect x="1033.27" y="321.04" width="14.35" height="3.43" fill="#263ea8" shape-rendering="crispEdges"/>
<rect x="1054.79" y="321.04" width="7.17" height="3.43" fill="#263ea8" shape-rendering="crispEdges"/>
<rect x="968.71" y="317.61" width="7.17" height="3.43" fill="#263ea8" shape-rendering="crispEdges"/>
<rect x="975.88" y="317.61" width="7.17" height="3.43" fill="#099dcc" shape-rendering="crispEdges"/>
<rect x="983.06" y="317.61" width="14.35" height="3.43" fill="#263ea8" shape-rendering="crispEdges"/>
<rect x="1004.58" y="317.61" width="7.17" height="3.43" fill="#263ea8" shape-rendering="crispEdges"/>
<rect x="1026.10" y="317.61" width="7.17" height="3.43" fill="#263ea8" shape-rendering="crispEdges"/>
<rect x="1047.61" y="317.61" width="7.17" height="3.43" fill="#263ea8" shape-rendering="crispEdges"/>
<rect x="975.88" y="314.18" width="7.17" height="3.43" fill="#263ea8" shape-rendering="crispEdges"/>
<rect x="983.06" y="314.18" width="7.17" height="3.43" fill="#0da7c3" shape-rendering="crispEdges"/>
<rect x="990.23" y="314.18" width="35.86" height="3.43" fill="#263ea8" shape-rendering="crispEdges"/>
<rect x="1033.27" y="314.18" width="14.35" height="3.43" fill="#263ea8" shape-rendering="crispEdges"/>
<rect x="983.06" y="310.75" width="7.17" height="3.43" fill="#263ea8" shape-rendering="crispEdges"/>
<rect x="990.23" y="310.75" width="7.17" height="3.43" fill="#0da7c3" shape-rendering="crispEdges"/>
<rect x="997.40" y="310.75" width="28.69" height="3.43" fill="#263ea8" shape-rendering="crispEdges"/>
<rect x="1040.44" y="310.75" width="7.17" height="3.43" fill="#263ea8" shape-rendering="crispEdges"/>
<rect x="990.23" y="307.32" width="7.17" height="3.43" fill="#263ea8" shape-rendering="crispEdges"/>
<rect x="997.40" y="307.32" width="7.17" height="3.43" fill="#0e8fd1" shape-rendering="crispEdges"/>
<rect x="1004.58" y="307.32" width="35.86" height="3.43" fill="#263ea8" shape-rendering="crispEdges"/>
<rect x="997.40" y="303.88" width="7.17" height="3.43" fill="#263ea8" shape-rendering="crispEdges"/>
<rect x="1004.58" y="303.88" width="7.17" height="3.43" fill="#1272d9" shape-rendering="crispEdges"/>
<rect x="1011.75" y="303.88" width="21.52" height="3.43" fill="#263ea8" shape-rendering="crispEdges"/>
<rect x="1040.44" y="303.88" width="7.17" height="3.43" fill="#263ea8" shape-rendering="crispEdges"/>
<rect x="1004.58" y="300.45" width="7.17" height="3.43" fill="#263ea8" shape-rendering="crispEdges"/>
<rect x="1011.75" y="300.45" width="7.17" height="3.43" fill="#1272d9" shape-rendering="crispEdges"/>
<rect x="1018.92" y="300.45" width="7.17" height="3.43" fill="#263ea8" shape-rendering="crispEdges"/>
<rect x="1011.75" y="297.02" width="7.17" height="3.43" fill="#263ea8" shape-rendering="crispEdges"/>
<rect x="1018.92" y="297.02" width="7.17" height="3.43" fill="#1272d9" shape-rendering="crispEdges"/>
<rect x="1026.10" y="297.02" width="21.52" height="3.43" fill="#263ea8" shape-rendering="crispEdges"/>
<rect x="1018.92" y="293.59" width="7.17" height="3.43" fill="#263ea8" shape-rendering="crispEdges"/>
<rect x="1026.10" y="293.59" width="7.17" height="3.43" fill="#1272d9" shape-rendering="crispEdges"/>
<rect x="1033.27" y="293.59" width="7.17" height="3.43" fill="#263ea8" shape-rendering="crispEdges"/>
<rect x="1047.61" y="293.59" width="7.17" height="3.43" fill="#263ea8" shape-rendering="crispEdges"/>
<rect x="1026.10" y="290.16" width="7.17" height="3.43" fill="#263ea8" shape-rendering="crispEdges"/>
<rect x="1033.27" y="290.16" width="7.17" height="3.43" fill="#1272d9" shape-rendering="crispEdges"/>
<rect x="1040.44" y="290.16" width="14.35" height="3.43" fill="#263ea8" shape-rendering="crispEdges"/>
<rect x="1033.27" y="286.72" width="7.17" height="3.43" fill="#263ea8" shape-rendering="crispEdges"/>
<rect x="1040.44" y="286.72" width="7.17" height="3.43" fill="#1272d9" shape-rendering="crispEdges"/>
<rect x="1047.61" y="286.72" width="7.17" height="3.43" fill="#263ea8" shape-rendering="crispEdges"/>
<rect x="1040.44" y="283.29" width="7.17" height="3.43" fill="#263ea8" shape-rendering="crispEdges"/>
<rect x="1047.61" y="283.29" width="7.17" height="3.43" fill="#1272d9" shape-rendering="crispEdges"/>
<rect x="1054.79" y="283.29" width="7.17" height="3.43" fill="#263ea8" shape-rendering="crispEdges"/>
<rect x="1047.61" y="279.86" width="7.17" height="3.43" fill="#263ea8" shape-rendering="crispEdges"/>
<rect x="1054.79" y="279.86" width="7.17" height="3.43" fill="#1272d9" shape-rendering="crispEdges"/>
<rect x="1054.79" y="276.43" width="7.17" height="3.43" fill="#263ea8" shape-rendering="crispEdges"/>
<rect x="1083.48" y="345.07" width="7.17" height="3.43" fill="#263ea8" shape-rendering="crispEdges"/>
<rect x="1097.83" y="345.07" width="14.35" height="3.43" fill="#263ea8" shape-rendering="crispEdges"/>
<rect x="1069.13" y="341.64" width="7.17" height="3.43" fill="#263ea8" shape-rendering="crispEdges"/>
<rect x="1083.48" y="331.34" width="7.17" height="3.43" fill="#263ea8" shape-rendering="crispEdges"/>
<rect x="1183.90" y="331.34" width="7.17" height="3.43" fill="#263ea8" shape-rendering="crispEdges"/>
<rect x="1083.48" y="327.91" width="7.17" height="3.43" fill="#263ea8" shape-rendering="crispEdges"/>
<rect x="1069.13" y="321.04" width="7.17" height="3.43" fill="#263ea8" shape-rendering="crispEdges"/>
<rect x="1090.65" y="321.04" width="7.17" height="3.43" fill="#263ea8" shape-rendering="crispEdges"/>
<rect x="1133.69" y="321.04" width="7.17" height="3.43" fill="#263ea8" shape-rendering="crispEdges"/>
<rect x="1148.04" y="321.04" width="7.17" height="3.43" fill="#263ea8" shape-rendering="crispEdges"/>
<rect x="1198.25" y="321.04" width="7.17" height="3.43" fill="#263ea8" shape-rendering="crispEdges"/>
<rect x="1076.31" y="317.61" width="7.17" height="3.43" fill="#263ea8" shape-rendering="crispEdges"/>
<rect x="1090.65" y="317.61" width="7.17" height="3.43" fill="#263ea8" shape-rendering="crispEdges"/>
<rect x="1119.34" y="317.61" width="7.17" height="3.43" fill="#263ea8" shape-rendering="crispEdges"/>
<rect x="1155.21" y="317.61" width="7.17" height="3.43" fill="#263ea8" shape-rendering="crispEdges"/>
<rect x="1105.00" y="314.18" width="7.17" height="3.43" fill="#263ea8" shape-rendering="crispEdges"/>
<rect x="1133.69" y="314.18" width="7.17" height="3.43" fill="#263ea8" shape-rendering="crispEdges"/>
<rect x="1176.73" y="314.18" width="7.17" height="3.43" fill="#263ea8" shape-rendering="crispEdges"/>
<rect x="1076.31" y="310.75" width="14.35" height="3.43" fill="#263ea8" shape-rendering="crispEdges"/>
<rect x="1112.17" y="310.75" width="7.17" height="3.43" fill="#263ea8" shape-rendering="crispEdges"/>
<rect x="1097.83" y="307.32" width="7.17" height="3.43" fill="#263ea8" shape-rendering="crispEdges"/>
<rect x="1119.34" y="307.32" width="7.17" height="3.43" fill="#263ea8" shape-rendering="crispEdges"/>
<rect x="1148.04" y="307.32" width="7.17" height="3.43" fill="#263ea8" shape-rendering="crispEdges"/>
<rect x="1069.13" y="303.88" width="7.17" height="3.43" fill="#263ea8" shape-rendering="crispEdges"/>
<rect x="1191.07" y="303.88" width="7.17" height="3.43" fill="#263ea8" shape-rendering="crispEdges"/>
<rect x="1148.04" y="300.45" width="7.17" height="3.43" fill="#263ea8" shape-rendering="crispEdges"/>
<rect x="1176.73" y="300.45" width="7.17" height="3.43" fill="#263ea8" shape-rendering="crispEdges"/>
<rect x="1076.31" y="297.02" width="7.17" height="3.43" fill="#263ea8" shape-rendering="crispEdges"/>
<rect x="1097.83" y="297.02" width="7.17" height="3.43" fill="#263ea8" shape-rendering="crispEdges"/>
<rect x="1176.73" y="297.02" width="7.17" height="3.43" fill="#263ea8" shape-rendering="crispEdges"/>
<rect x="1069.13" y="293.59" width="7.17" height="3.43" fill="#263ea8" shape-rendering="crispEdges"/>
<rect x="1126.52" y="293.59" width="7.17" height="3.43" fill="#263ea8" shape-rendering="crispEdges"/>
<rect x="1133.69" y="290.16" width="7.17" height="3.43" fill="#263ea8" shape-rendering="crispEdges"/>
<rect x="1155.21" y="290.16" width="7.17" height="3.43" fill="#263ea8" shape-rendering="crispEdges"/>
<rect x="1212.59" y="290.16" width="7.17" height="3.43" fill="#263ea8" shape-rendering="crispEdges"/>
<rect x="1069.13" y="286.72" width="14.35" height="3.43" fill="#263ea8" shape-rendering="crispEdges"/>
<rect x="1133.69" y="286.72" width="7.17" height="3.43" fill="#263ea8" shape-rendering="crispEdges"/>
<rect x="1148.04" y="286.72" width="7.17" height="3.43" fill="#263ea8" shape-rendering="crispEdges"/>
<rect x="1083.48" y="279.86" width="7.17" height="3.43" fill="#263ea8" shape-rendering="crispEdges"/>
<rect x="1133.69" y="279.86" width="7.17" height="3.43" fill="#263ea8" shape-rendering="crispEdges"/>
<rect x="1155.21" y="279.86" width="7.17" height="3.43" fill="#263ea8" shape-rendering="crispEdges"/>
<rect x="1191.07" y="279.86" width="7.17" height="3.43" fill="#263ea8" shape-rendering="crispEdges"/>
<rect x="1112.17" y="276.43" width="21.52" height="3.43" fill="#263ea8" shape-rendering="crispEdges"/>
<rect x="1140.86" y="276.43" width="7.17" height="3.43" fill="#263ea8" shape-rendering="crispEdges"/>
<rect x="1119.34" y="269.56" width="7.17" height="3.43" fill="#263ea8" shape-rendering="crispEdges"/>
<rect x="1119.34" y="266.13" width="7.17" height="3.43" fill="#263ea8" shape-rendering="crispEdges"/>
<rect x="1126.52" y="266.13" width="7.17" height="3.43" fill="#263ea8" shape-rendering="crispEdges"/>
<rect x="1126.52" y="262.70" width="7.17" height="3.43" fill="#263ea8" shape-rendering="crispEdges"/>
<rect x="1155.21" y="262.70" width="7.17" height="3.43" fill="#263ea8" shape-rendering="crispEdges"/>
<rect x="1140.86" y="259.27" width="7.17" height="3.43" fill="#263ea8" shape-rendering="crispEdges"/>
<rect x="1162.38" y="259.27" width="7.17" height="3.43" fill="#263ea8" shape-rendering="crispEdges"/>
<rect x="1183.90" y="259.27" width="7.17" height="3.43" fill="#263ea8" shape-rendering="crispEdges"/>
<rect x="1155.21" y="248.97" width="7.17" height="3.43" fill="#263ea8" shape-rendering="crispEdges"/>
<rect x="1133.69" y="252.40" width="7.17" height="3.43" fill="#263ea8" shape-rendering="crispEdges"/>
<rect x="1155.21" y="252.40" width="7.17" height="3.43" fill="#263ea8" shape-rendering="crispEdges"/>
<rect x="1212.59" y="248.97" width="7.17" height="3.43" fill="#263ea8" shape-rendering="crispEdges"/>
<rect x="1162.38" y="245.54" width="7.17" height="3.43" fill="#263ea8" shape-rendering="crispEdges"/>
<rect x="1176.73" y="245.54" width="7.17" height="3.43" fill="#263ea8" shape-rendering="crispEdges"/>
<rect x="1061.96" y="279.86" width="14.35" height="3.43" fill="#263ea8" shape-rendering="crispEdges"/>
<rect x="1061.96" y="276.43" width="7.17" height="3.43" fill="#1272d9" shape-rendering="crispEdges"/>
<rect x="1069.13" y="276.43" width="14.35" height="3.43" fill="#263ea8" shape-rendering="crispEdges"/>
<rect x="1061.96" y="273.00" width="7.17" height="3.43" fill="#263ea8" shape-rendering="crispEdges"/>
<rect x="1069.13" y="273.00" width="7.17" height="3.43" fill="#1272d9" shape-rendering="crispEdges"/>
<rect x="1076.31" y="273.00" width="7.17" height="3.43" fill="#263ea8" shape-rendering="crispEdges"/>
<rect x="1097.83" y="273.00" width="7.17" height="3.43" fill="#263ea8" shape-rendering="crispEdges"/>
<rect x="1069.13" y="269.56" width="7.17" height="3.43" fill="#263ea8" shape-rendering="crispEdges"/>
<rect x="1076.31" y="269.56" width="7.17" height="3.43" fill="#1272d9" shape-rendering="crispEdges"/>
<rect x="1083.48" y="269.56" width="7.17" height="3.43" fill="#263ea8" shape-rendering="crispEdges"/>
<rect x="1097.83" y="269.56" width="7.17" height="3.43" fill="#263ea8" shape-rendering="crispEdges"/>
<rect x="1076.31" y="266.13" width="7.17" height="3.43" fill="#263ea8" shape-rendering="crispEdges"/>
<rect x="1083.48" y="266.13" width="7.17" height="3.43" fill="#1272d9" shape-rendering="crispEdges"/>
<rect x="1090.65" y="266.13" width="21.52" height="3.43" fill="#263ea8" shape-rendering="crispEdges"/>
<rect x="1083.48" y="262.70" width="7.17" height="3.43" fill="#263ea8" shape-rendering="crispEdges"/>
<rect x="1090.65" y="262.70" width="7.17" height="3.43" fill="#1272d9" shape-rendering="crispEdges"/>
<rect x="1097.83" y="262.70" width="14.35" height="3.43" fill="#263ea8" shape-rendering="crispEdges"/>
<rect x="1090.65" y="259.27" width="7.17" height="3.43" fill="#263ea8" shape-rendering="crispEdges"/>
<rect x="1097.83" y="259.27" width="7.17" height="3.43" fill="#1272d9" shape-rendering="crispEdges"/>
<rect x="1105.00" y="259.27" width="7.17" height="3.43" fill="#263ea8" shape-rendering="crispEdges"/>
<rect x="1105.00" y="255.84" width="7.17" height="3.43" fill="#1272d9" shape-rendering="crispEdges"/>
<rect x="1112.17" y="255.84" width="7.17" height="3.43" fill="#263ea8" shape-rendering="crispEdges"/>
<rect x="1105.00" y="252.40" width="7.17" height="3.43" fill="#263ea8" shape-rendering="crispEdges"/>
<rect x="1112.17" y="252.40" width="7.17" height="3.43" fill="#1272d9" shape-rendering="crispEdges"/>
<rect x="1119.34" y="252.40" width="7.17" height="3.43" fill="#263ea8" shape-rendering="crispEdges"/>
<rect x="1112.17" y="248.97" width="7.17" height="3.43" fill="#263ea8" shape-rendering="crispEdges"/>
<rect x="1119.34" y="248.97" width="7.17" height="3.43" fill="#1272d9" shape-rendering="crispEdges"/>
<rect x="1126.52" y="248.97" width="7.17" height="3.43" fill="#263ea8" shape-rendering="crispEdges"/>
<rect x="1119.34" y="245.54" width="21.52" height="3.43" fill="#263ea8" shape-rendering="crispEdges"/>
<rect x="1133.69" y="242.11" width="7.17" height="3.43" fill="#1272d9" shape-rendering="crispEdges"/>
<rect x="1140.86" y="242.11" width="7.17" height="3.43" fill="#263ea8" shape-rendering="crispEdges"/>
<rect x="1133.69" y="238.68" width="14.35" height="3.43" fill="#263ea8" shape-rendering="crispEdges"/>
<rect x="1176.73" y="238.68" width="14.35" height="3.43" fill="#263ea8" shape-rendering="crispEdges"/>
<rect x="1162.38" y="245.54" width="7.17" height="3.43" fill="#263ea8" shape-rendering="crispEdges"/>
<rect x="1162.38" y="242.11" width="7.17" height="3.43" fill="#263ea8" shape-rendering="crispEdges"/>
<rect x="1298.67" y="242.11" width="7.17" height="3.43" fill="#263ea8" shape-rendering="crispEdges"/>
<rect x="1219.77" y="290.16" width="7.17" height="3.43" fill="#263ea8" shape-rendering="crispEdges"/>
<rect x="1226.94" y="297.02" width="7.17" height="3.43" fill="#263ea8" shape-rendering="crispEdges"/>
<rect x="1226.94" y="293.59" width="7.17" height="3.43" fill="#263ea8" shape-rendering="crispEdges"/>
<rect x="1313.01" y="297.02" width="7.17" height="3.43" fill="#263ea8" shape-rendering="crispEdges"/>
<rect x="1248.46" y="300.45" width="7.17" height="3.43" fill="#263ea8" shape-rendering="crispEdges"/>
<rect x="1226.94" y="307.32" width="7.17" height="3.43" fill="#263ea8" shape-rendering="crispEdges"/>
<rect x="1277.15" y="307.32" width="7.17" height="3.43" fill="#263ea8" shape-rendering="crispEdges"/>
<rect x="1298.67" y="307.32" width="7.17" height="3.43" fill="#263ea8" shape-rendering="crispEdges"/>
<rect x="1320.19" y="303.88" width="7.17" height="3.43" fill="#263ea8" shape-rendering="crispEdges"/>
<rect x="1234.11" y="317.61" width="7.17" height="3.43" fill="#263ea8" shape-rendering="crispEdges"/>
<rect x="1241.28" y="321.04" width="7.17" height="3.43" fill="#263ea8" shape-rendering="crispEdges"/>
<rect x="1320.19" y="321.04" width="7.17" height="3.43" fill="#263ea8" shape-rendering="crispEdges"/>
<rect x="1148.04" y="242.11" width="7.17" height="3.43" fill="#263ea8" shape-rendering="crispEdges"/>
<rect x="1148.04" y="238.68" width="7.17" height="3.43" fill="#263ea8" shape-rendering="crispEdges"/>
<rect x="1148.04" y="235.24" width="7.17" height="3.43" fill="#1064dc" shape-rendering="crispEdges"/>
<rect x="1155.21" y="235.24" width="14.35" height="3.43" fill="#263ea8" shape-rendering="crispEdges"/>
<rect x="1155.21" y="231.81" width="7.17" height="3.43" fill="#1064dc" shape-rendering="crispEdges"/>
<rect x="1162.38" y="231.81" width="14.35" height="3.43" fill="#263ea8" shape-rendering="crispEdges"/>
<rect x="1155.21" y="228.38" width="21.52" height="3.43" fill="#263ea8" shape-rendering="crispEdges"/>
<rect x="1169.56" y="224.95" width="7.17" height="3.43" fill="#1064dc" shape-rendering="crispEdges"/>
<rect x="1176.73" y="224.95" width="7.17" height="3.43" fill="#263ea8" shape-rendering="crispEdges"/>
<rect x="1176.73" y="221.52" width="7.17" height="3.43" fill="#1064dc" shape-rendering="crispEdges"/>
<rect x="1183.90" y="221.52" width="7.17" height="3.43" fill="#263ea8" shape-rendering="crispEdges"/>
<rect x="1198.25" y="221.52" width="7.17" height="3.43" fill="#263ea8" shape-rendering="crispEdges"/>
<rect x="1212.59" y="221.52" width="7.17" height="3.43" fill="#263ea8" shape-rendering="crispEdges"/>
<rect x="1183.90" y="218.08" width="7.17" height="3.43" fill="#1064dc" shape-rendering="crispEdges"/>
<rect x="1191.07" y="218.08" width="7.17" height="3.43" fill="#263ea8" shape-rendering="crispEdges"/>
<rect x="1191.07" y="214.65" width="7.17" height="3.43" fill="#1064dc" shape-rendering="crispEdges"/>
<rect x="1198.25" y="214.65" width="7.17" height="3.43" fill="#263ea8" shape-rendering="crispEdges"/>
<rect x="1191.07" y="211.22" width="7.17" height="3.43" fill="#263ea8" shape-rendering="crispEdges"/>
<rect x="1198.25" y="211.22" width="7.17" height="3.43" fill="#1064dc" shape-rendering="crispEdges"/>
<rect x="1205.42" y="211.22" width="14.35" height="3.43" fill="#263ea8" shape-rendering="crispEdges"/>
<rect x="1262.80" y="211.22" width="7.17" height="3.43" fill="#263ea8" shape-rendering="crispEdges"/>
<rect x="1198.25" y="207.79" width="21.52" height="3.43" fill="#263ea8" shape-rendering="crispEdges"/>
<rect x="1241.28" y="207.79" width="7.17" height="3.43" fill="#263ea8" shape-rendering="crispEdges"/>
<rect x="1205.42" y="204.36" width="21.52" height="3.43" fill="#263ea8" shape-rendering="crispEdges"/>
<rect x="1219.77" y="200.92" width="14.35" height="3.43" fill="#263ea8" shape-rendering="crispEdges"/>
<rect x="1226.94" y="197.49" width="7.17" height="3.43" fill="#1064dc" shape-rendering="crispEdges"/>
<rect x="1234.11" y="197.49" width="7.17" height="3.43" fill="#263ea8" shape-rendering="crispEdges"/>
<rect x="1226.94" y="194.06" width="7.17" height="3.43" fill="#263ea8" shape-rendering="crispEdges"/>
<rect x="1234.11" y="194.06" width="7.17" height="3.43" fill="#0e8fd1" shape-rendering="crispEdges"/>
<rect x="1241.28" y="194.06" width="14.35" height="3.43" fill="#263ea8" shape-rendering="crispEdges"/>
<rect x="1262.80" y="194.06" width="7.17" height="3.43" fill="#263ea8" shape-rendering="crispEdges"/>
<rect x="1234.11" y="190.63" width="7.17" height="3.43" fill="#263ea8" shape-rendering="crispEdges"/>
<rect x="1241.28" y="190.63" width="7.17" height="3.43" fill="#1064dc" shape-rendering="crispEdges"/>
<rect x="1248.46" y="190.63" width="7.17" height="3.43" fill="#263ea8" shape-rendering="crispEdges"/>
<rect x="1241.28" y="187.20" width="21.52" height="3.43" fill="#263ea8" shape-rendering="crispEdges"/>
<rect x="1255.63" y="183.76" width="14.35" height="3.43" fill="#263ea8" shape-rendering="crispEdges"/>
<rect x="1255.63" y="180.33" width="14.35" height="3.43" fill="#263ea8" shape-rendering="crispEdges"/>
<rect x="1262.80" y="176.90" width="7.17" height="3.43" fill="#263ea8" shape-rendering="crispEdges"/>
<rect x="1269.98" y="194.06" width="7.17" height="3.43" fill="#263ea8" shape-rendering="crispEdges"/>
<rect x="1298.67" y="194.06" width="7.17" height="3.43" fill="#263ea8" shape-rendering="crispEdges"/>
<rect x="1399.09" y="187.20" width="7.17" height="3.43" fill="#263ea8" shape-rendering="crispEdges"/>
<rect x="1269.98" y="183.76" width="7.17" height="3.43" fill="#263ea8" shape-rendering="crispEdges"/>
<rect x="1269.98" y="180.33" width="7.17" height="3.43" fill="#263ea8" shape-rendering="crispEdges"/>
<rect x="1269.98" y="176.90" width="14.35" height="3.43" fill="#263ea8" shape-rendering="crispEdges"/>
<rect x="1269.98" y="173.47" width="28.69" height="3.43" fill="#263ea8" shape-rendering="crispEdges"/>
<rect x="1284.32" y="170.04" width="14.35" height="3.43" fill="#263ea8" shape-rendering="crispEdges"/>
<rect x="1313.01" y="170.04" width="7.17" height="3.43" fill="#263ea8" shape-rendering="crispEdges"/>
<rect x="1363.23" y="170.04" width="7.17" height="3.43" fill="#263ea8" shape-rendering="crispEdges"/>
<rect x="1284.32" y="166.60" width="7.17" height="3.43" fill="#263ea8" shape-rendering="crispEdges"/>
<rect x="1291.50" y="166.60" width="7.17" height="3.43" fill="#1064dc" shape-rendering="crispEdges"/>
<rect x="1298.67" y="166.60" width="7.17" height="3.43" fill="#263ea8" shape-rendering="crispEdges"/>
<rect x="1313.01" y="166.60" width="7.17" height="3.43" fill="#263ea8" shape-rendering="crispEdges"/>
<rect x="1298.67" y="163.17" width="14.35" height="3.43" fill="#263ea8" shape-rendering="crispEdges"/>
<rect x="1298.67" y="159.74" width="7.17" height="3.43" fill="#263ea8" shape-rendering="crispEdges"/>
<rect x="1305.84" y="159.74" width="7.17" height="3.43" fill="#1064dc" shape-rendering="crispEdges"/>
<rect x="1313.01" y="159.74" width="7.17" height="3.43" fill="#263ea8" shape-rendering="crispEdges"/>
<rect x="1305.84" y="156.31" width="21.52" height="3.43" fill="#263ea8" shape-rendering="crispEdges"/>
<rect x="1313.01" y="152.88" width="21.52" height="3.43" fill="#263ea8" shape-rendering="crispEdges"/>
<rect x="1320.19" y="149.44" width="28.69" height="3.43" fill="#263ea8" shape-rendering="crispEdges"/>
<rect x="1327.36" y="146.01" width="28.69" height="3.43" fill="#263ea8" shape-rendering="crispEdges"/>
<rect x="1334.53" y="142.58" width="21.52" height="3.43" fill="#263ea8" shape-rendering="crispEdges"/>
<rect x="1341.71" y="139.15" width="21.52" height="3.43" fill="#263ea8" shape-rendering="crispEdges"/>
<rect x="1348.88" y="135.72" width="21.52" height="3.43" fill="#263ea8" shape-rendering="crispEdges"/>
<rect x="1356.05" y="132.28" width="7.17" height="3.43" fill="#263ea8" shape-rendering="crispEdges"/>
<rect x="1363.23" y="132.28" width="7.17" height="3.43" fill="#1064dc" shape-rendering="crispEdges"/>
<rect x="1370.40" y="132.28" width="7.17" height="3.43" fill="#263ea8" shape-rendering="crispEdges"/>
<rect x="1391.92" y="132.28" width="7.17" height="3.43" fill="#263ea8" shape-rendering="crispEdges"/>
<rect x="1363.23" y="128.85" width="21.52" height="3.43" fill="#263ea8" shape-rendering="crispEdges"/>
<rect x="1370.40" y="125.42" width="21.52" height="3.43" fill="#263ea8" shape-rendering="crispEdges"/>
<rect x="1377.57" y="121.99" width="21.52" height="3.43" fill="#263ea8" shape-rendering="crispEdges"/>
<rect x="1384.74" y="118.56" width="14.35" height="3.43" fill="#263ea8" shape-rendering="crispEdges"/>
<rect x="1391.92" y="115.12" width="7.17" height="3.43" fill="#263ea8" shape-rendering="crispEdges"/>
<rect x="1399.09" y="207.79" width="7.17" height="3.43" fill="#263ea8" shape-rendering="crispEdges"/>
<rect x="1313.01" y="200.92" width="7.17" height="3.43" fill="#263ea8" shape-rendering="crispEdges"/>
<rect x="1269.98" y="228.38" width="7.17" height="3.43" fill="#263ea8" shape-rendering="crispEdges"/>
<rect x="1391.92" y="235.24" width="7.17" height="3.43" fill="#263ea8" shape-rendering="crispEdges"/>
<rect x="1341.71" y="266.13" width="7.17" height="3.43" fill="#263ea8" shape-rendering="crispEdges"/>
<rect x="1356.05" y="307.32" width="7.17" height="3.43" fill="#263ea8" shape-rendering="crispEdges"/>
<rect x="1413.44" y="307.32" width="7.17" height="3.43" fill="#263ea8" shape-rendering="crispEdges"/>
<rect x="1363.23" y="290.16" width="7.17" height="3.43" fill="#263ea8" shape-rendering="crispEdges"/>
<rect x="1413.44" y="321.04" width="7.17" height="3.43" fill="#263ea8" shape-rendering="crispEdges"/>
<rect x="1406.26" y="327.91" width="7.17" height="3.43" fill="#263ea8" shape-rendering="crispEdges"/>
<rect x="1406.26" y="324.48" width="7.17" height="3.43" fill="#263ea8" shape-rendering="crispEdges"/>
<rect x="1399.09" y="331.34" width="7.17" height="3.43" fill="#263ea8" shape-rendering="crispEdges"/>
<rect x="1420.61" y="317.61" width="7.17" height="3.43" fill="#263ea8" shape-rendering="crispEdges"/>
<rect x="1427.78" y="310.75" width="14.35" height="3.43" fill="#263ea8" shape-rendering="crispEdges"/>
<rect x="1442.13" y="303.88" width="14.35" height="3.43" fill="#263ea8" shape-rendering="crispEdges"/>
<rect x="1449.30" y="300.45" width="7.17" height="3.43" fill="#263ea8" shape-rendering="crispEdges"/>
<rect x="1449.30" y="297.02" width="14.35" height="3.43" fill="#263ea8" shape-rendering="crispEdges"/>
<rect x="1456.47" y="290.16" width="7.17" height="3.43" fill="#263ea8" shape-rendering="crispEdges"/>
<rect x="1463.65" y="293.59" width="7.17" height="3.43" fill="#263ea8" shape-rendering="crispEdges"/>
<rect x="1470.82" y="279.86" width="7.17" height="3.43" fill="#263ea8" shape-rendering="crispEdges"/>
<rect x="1470.82" y="286.72" width="7.17" height="3.43" fill="#263ea8" shape-rendering="crispEdges"/>
<rect x="1477.99" y="283.29" width="7.17" height="3.43" fill="#263ea8" shape-rendering="crispEdges"/>
<rect x="1492.34" y="269.56" width="7.17" height="3.43" fill="#263ea8" shape-rendering="crispEdges"/>
<rect x="1499.51" y="266.13" width="14.35" height="3.43" fill="#263ea8" shape-rendering="crispEdges"/>
<rect x="1521.03" y="262.70" width="7.17" height="3.43" fill="#263ea8" shape-rendering="crispEdges"/>
<rect x="1521.03" y="156.31" width="7.17" height="3.43" fill="#263ea8" shape-rendering="crispEdges"/>
<rect x="1599.93" y="166.60" width="7.17" height="3.43" fill="#263ea8" shape-rendering="crispEdges"/>
<rect x="1628.63" y="170.04" width="7.17" height="3.43" fill="#263ea8" shape-rendering="crispEdges"/>
<rect x="1592.76" y="180.33" width="7.17" height="3.43" fill="#263ea8" shape-rendering="crispEdges"/>
<rect x="1607.11" y="194.06" width="7.17" height="3.43" fill="#263ea8" shape-rendering="crispEdges"/>
<rect x="1485.17" y="197.49" width="7.17" height="3.43" fill="#263ea8" shape-rendering="crispEdges"/>
<rect x="1542.55" y="218.08" width="7.17" height="3.43" fill="#263ea8" shape-rendering="crispEdges"/>
<rect x="1255.63" y="279.86" width="7.17" height="3.43" fill="#263ea8" shape-rendering="crispEdges"/>
<rect x="1391.92" y="121.99" width="7.17" height="3.43" fill="#263ea8" shape-rendering="crispEdges"/>
<rect x="1391.92" y="118.56" width="7.17" height="3.43" fill="#263ea8" shape-rendering="crispEdges"/>
<rect x="1391.92" y="115.12" width="7.17" height="3.43" fill="#263ea8" shape-rendering="crispEdges"/>
<rect x="1399.09" y="118.56" width="7.17" height="3.43" fill="#263ea8" shape-rendering="crispEdges"/>
<rect x="1399.09" y="115.12" width="7.17" height="3.43" fill="#263ea8" shape-rendering="crispEdges"/>
<rect x="1399.09" y="111.69" width="7.17" height="3.43" fill="#263ea8" shape-rendering="crispEdges"/>
<rect x="1406.26" y="115.12" width="7.17" height="3.43" fill="#263ea8" shape-rendering="crispEdges"/>
<rect x="1406.26" y="111.69" width="7.17" height="3.43" fill="#263ea8" shape-rendering="crispEdges"/>
<rect x="1406.26" y="108.26" width="7.17" height="3.43" fill="#263ea8" shape-rendering="crispEdges"/>
<rect x="1413.44" y="115.12" width="7.17" height="3.43" fill="#263ea8" shape-rendering="crispEdges"/>
<rect x="1413.44" y="111.69" width="7.17" height="3.43" fill="#263ea8" shape-rendering="crispEdges"/>
<rect x="1413.44" y="108.26" width="7.17" height="3.43" fill="#263ea8" shape-rendering="crispEdges"/>
<rect x="1413.44" y="104.83" width="7.17" height="3.43" fill="#263ea8" shape-rendering="crispEdges"/>
<rect x="1420.61" y="108.26" width="7.17" height="3.43" fill="#263ea8" shape-rendering="crispEdges"/>
<rect x="1420.61" y="104.83" width="7.17" height="3.43" fill="#263ea8" shape-rendering="crispEdges"/>
<rect x="1420.61" y="101.40" width="7.17" height="3.43" fill="#263ea8" shape-rendering="crispEdges"/>
<rect x="1427.78" y="111.69" width="7.17" height="3.43" fill="#263ea8" shape-rendering="crispEdges"/>
<rect x="1427.78" y="108.26" width="7.17" height="3.43" fill="#263ea8" shape-rendering="crispEdges"/>
<rect x="1427.78" y="104.83" width="7.17" height="3.43" fill="#263ea8" shape-rendering="crispEdges"/>
<rect x="1427.78" y="101.40" width="7.17" height="3.43" fill="#263ea8" shape-rendering="crispEdges"/>
<rect x="1427.78" y="97.96" width="7.17" height="3.43" fill="#263ea8" shape-rendering="crispEdges"/>
<rect x="1434.96" y="104.83" width="7.17" height="3.43" fill="#263ea8" shape-rendering="crispEdges"/>
<rect x="1434.96" y="101.40" width="7.17" height="3.43" fill="#263ea8" shape-rendering="crispEdges"/>
<rect x="1434.96" y="97.96" width="7.17" height="3.43" fill="#263ea8" shape-rendering="crispEdges"/>
<rect x="1442.13" y="101.40" width="7.17" height="3.43" fill="#263ea8" shape-rendering="crispEdges"/>
<rect x="1442.13" y="97.96" width="7.17" height="3.43" fill="#263ea8" shape-rendering="crispEdges"/>
<rect x="1442.13" y="94.53" width="7.17" height="3.43" fill="#263ea8" shape-rendering="crispEdges"/>
<rect x="1449.30" y="91.10" width="7.17" height="3.43" fill="#263ea8" shape-rendering="crispEdges"/>
<rect x="1449.30" y="87.67" width="7.17" height="3.43" fill="#263ea8" shape-rendering="crispEdges"/>
<rect x="1449.30" y="111.69" width="7.17" height="3.43" fill="#263ea8" shape-rendering="crispEdges"/>
<rect x="1456.47" y="87.67" width="7.17" height="3.43" fill="#263ea8" shape-rendering="crispEdges"/>
<rect x="1456.47" y="84.24" width="7.17" height="3.43" fill="#263ea8" shape-rendering="crispEdges"/>
<rect x="1463.65" y="84.24" width="7.17" height="3.43" fill="#263ea8" shape-rendering="crispEdges"/>
<rect x="1463.65" y="80.80" width="7.17" height="3.43" fill="#263ea8" shape-rendering="crispEdges"/>
<rect x="1470.82" y="80.80" width="7.17" height="3.43" fill="#263ea8" shape-rendering="crispEdges"/>
<rect x="1470.82" y="77.37" width="7.17" height="3.43" fill="#263ea8" shape-rendering="crispEdges"/>
<rect x="1470.82" y="97.96" width="7.17" height="3.43" fill="#263ea8" shape-rendering="crispEdges"/>
<rect x="1477.99" y="77.37" width="7.17" height="3.43" fill="#263ea8" shape-rendering="crispEdges"/>
<rect x="1477.99" y="73.94" width="7.17" height="3.43" fill="#263ea8" shape-rendering="crispEdges"/>
<rect x="1477.99" y="84.24" width="7.17" height="3.43" fill="#263ea8" shape-rendering="crispEdges"/>
<rect x="1485.17" y="73.94" width="7.17" height="3.43" fill="#263ea8" shape-rendering="crispEdges"/>
<rect x="1485.17" y="70.51" width="7.17" height="3.43" fill="#263ea8" shape-rendering="crispEdges"/>
<rect x="1485.17" y="111.69" width="7.17" height="3.43" fill="#263ea8" shape-rendering="crispEdges"/>
<rect x="1492.34" y="70.51" width="7.17" height="3.43" fill="#263ea8" shape-rendering="crispEdges"/>
<rect x="1492.34" y="67.08" width="7.17" height="3.43" fill="#263ea8" shape-rendering="crispEdges"/>
<rect x="1499.51" y="70.51" width="7.17" height="3.43" fill="#263ea8" shape-rendering="crispEdges"/>
<rect x="1499.51" y="67.08" width="7.17" height="3.43" fill="#263ea8" shape-rendering="crispEdges"/>
<rect x="1499.51" y="63.64" width="7.17" height="3.43" fill="#263ea8" shape-rendering="crispEdges"/>
<rect x="1506.69" y="63.64" width="7.17" height="3.43" fill="#263ea8" shape-rendering="crispEdges"/>
<rect x="1506.69" y="60.21" width="7.17" height="3.43" fill="#263ea8" shape-rendering="crispEdges"/>
<rect x="1513.86" y="60.21" width="7.17" height="3.43" fill="#263ea8" shape-rendering="crispEdges"/>
<rect x="1513.86" y="115.12" width="7.17" height="3.43" fill="#263ea8" shape-rendering="crispEdges"/>
<rect x="1506.69" y="56.78" width="7.17" height="3.43" fill="#263ea8" shape-rendering="crispEdges"/>
<rect x="1521.03" y="56.78" width="7.17" height="3.43" fill="#263ea8" shape-rendering="crispEdges"/>
<rect x="1521.03" y="53.35" width="7.17" height="3.43" fill="#263ea8" shape-rendering="crispEdges"/>
<rect x="1528.20" y="53.35" width="7.17" height="3.43" fill="#263ea8" shape-rendering="crispEdges"/>
<rect x="1528.20" y="49.92" width="7.17" height="3.43" fill="#263ea8" shape-rendering="crispEdges"/>
<rect x="1528.20" y="46.48" width="7.17" height="3.43" fill="#263ea8" shape-rendering="crispEdges"/>
<rect x="1535.38" y="49.92" width="7.17" height="3.43" fill="#263ea8" shape-rendering="crispEdges"/>
<rect x="1535.38" y="46.48" width="7.17" height="3.43" fill="#263ea8" shape-rendering="crispEdges"/>
<rect x="1535.38" y="43.05" width="7.17" height="3.43" fill="#263ea8" shape-rendering="crispEdges"/>
<rect x="1542.55" y="46.48" width="7.17" height="3.43" fill="#263ea8" shape-rendering="crispEdges"/>
<rect x="1542.55" y="43.05" width="7.17" height="3.43" fill="#263ea8" shape-rendering="crispEdges"/>
<rect x="1542.55" y="39.62" width="7.17" height="3.43" fill="#263ea8" shape-rendering="crispEdges"/>
<rect x="1549.72" y="43.05" width="7.17" height="3.43" fill="#263ea8" shape-rendering="crispEdges"/>
<rect x="1549.72" y="39.62" width="7.17" height="3.43" fill="#263ea8" shape-rendering="crispEdges"/>
<rect x="1556.90" y="39.62" width="7.17" height="3.43" fill="#263ea8" shape-rendering="crispEdges"/>
<rect x="1556.90" y="36.19" width="7.17" height="3.43" fill="#263ea8" shape-rendering="crispEdges"/>
<rect x="1556.90" y="32.76" width="7.17" height="3.43" fill="#263ea8" shape-rendering="crispEdges"/>
<rect x="1564.07" y="36.19" width="7.17" height="3.43" fill="#263ea8" shape-rendering="crispEdges"/>
<rect x="1564.07" y="32.76" width="7.17" height="3.43" fill="#263ea8" shape-rendering="crispEdges"/>
<rect x="1571.24" y="32.76" width="7.17" height="3.43" fill="#263ea8" shape-rendering="crispEdges"/>
<rect x="1571.24" y="29.32" width="7.17" height="3.43" fill="#263ea8" shape-rendering="crispEdges"/>
<rect x="1578.42" y="29.32" width="7.17" height="3.43" fill="#263ea8" shape-rendering="crispEdges"/>
<rect x="1578.42" y="25.89" width="7.17" height="3.43" fill="#263ea8" shape-rendering="crispEdges"/>
<rect x="1578.42" y="19.03" width="7.17" height="3.43" fill="#263ea8" shape-rendering="crispEdges"/>
<rect x="1585.59" y="22.46" width="7.17" height="3.43" fill="#263ea8" shape-rendering="crispEdges"/>
<rect x="1585.59" y="15.60" width="7.17" height="3.43" fill="#263ea8" shape-rendering="crispEdges"/>
<rect x="1592.76" y="22.46" width="7.17" height="3.43" fill="#263ea8" shape-rendering="crispEdges"/>
<rect x="1592.76" y="19.03" width="7.17" height="3.43" fill="#263ea8" shape-rendering="crispEdges"/>
<rect x="1599.93" y="19.03" width="7.17" height="3.43" fill="#263ea8" shape-rendering="crispEdges"/>
<rect x="1599.93" y="15.60" width="7.17" height="3.43" fill="#263ea8" shape-rendering="crispEdges"/>
<rect x="1599.93" y="12.16" width="7.17" height="3.43" fill="#263ea8" shape-rendering="crispEdges"/>
<rect x="1599.93" y="8.73" width="7.17" height="3.43" fill="#263ea8" shape-rendering="crispEdges"/>
<rect x="1607.11" y="19.03" width="7.17" height="3.43" fill="#263ea8" shape-rendering="crispEdges"/>
<rect x="1607.11" y="15.60" width="7.17" height="3.43" fill="#263ea8" shape-rendering="crispEdges"/>
<rect x="1607.11" y="12.16" width="7.17" height="3.43" fill="#263ea8" shape-rendering="crispEdges"/>
<rect x="1607.11" y="8.73" width="7.17" height="3.43" fill="#263ea8" shape-rendering="crispEdges"/>
<rect x="1614.28" y="15.60" width="7.17" height="3.43" fill="#263ea8" shape-rendering="crispEdges"/>
<rect x="1614.28" y="12.16" width="7.17" height="3.43" fill="#263ea8" shape-rendering="crispEdges"/>
<rect x="1614.28" y="8.73" width="7.17" height="3.43" fill="#263ea8" shape-rendering="crispEdges"/>
<rect x="1621.45" y="12.16" width="7.17" height="3.43" fill="#263ea8" shape-rendering="crispEdges"/>
<rect x="1621.45" y="8.73" width="7.17" height="3.43" fill="#263ea8" shape-rendering="crispEdges"/>
<rect x="1621.45" y="5.30" width="7.17" height="3.43" fill="#263ea8" shape-rendering="crispEdges"/>
<rect x="1628.63" y="128.85" width="7.17" height="3.43" fill="#263ea8" shape-rendering="crispEdges"/>
<rect x="1628.63" y="5.30" width="7.17" height="3.43" fill="#263ea8" shape-rendering="crispEdges"/>
<rect x="918.5" y="5.3" width="717.30" height="343.20" fill="none" stroke="#555" stroke-width="1.2"/>
<path d="M932.85 348.50V343.35 M918.50 341.64H929.26 M947.19 348.50V343.35 M918.50 334.77H929.26 M961.54 348.50V343.35 M918.50 327.91H929.26 M975.88 348.50V343.35 M918.50 321.04H929.26 M990.23 348.50V338.20 M918.50 314.18H940.02 M1004.58 348.50V343.35 M918.50 307.32H929.26 M1018.92 348.50V343.35 M918.50 300.45H929.26 M1033.27 348.50V343.35 M918.50 293.59H929.26 M1047.61 348.50V343.35 M918.50 286.72H929.26 M1061.96 348.50V338.20 M918.50 279.86H940.02 M1076.31 348.50V343.35 M918.50 273.00H929.26 M1090.65 348.50V343.35 M918.50 266.13H929.26 M1105.00 348.50V343.35 M918.50 259.27H929.26 M1119.34 348.50V343.35 M918.50 252.40H929.26 M1133.69 348.50V338.20 M918.50 245.54H940.02 M1148.04 348.50V343.35 M918.50 238.68H929.26 M1162.38 348.50V343.35 M918.50 231.81H929.26 M1176.73 348.50V343.35 M918.50 224.95H929.26 M1191.07 348.50V343.35 M918.50 218.08H929.26 M1205.42 348.50V338.20 M918.50 211.22H940.02 M1219.77 348.50V343.35 M918.50 204.36H929.26 M1234.11 348.50V343.35 M918.50 197.49H929.26 M1248.46 348.50V343.35 M918.50 190.63H929.26 M1262.80 348.50V343.35 M918.50 183.76H929.26 M1277.15 348.50V338.20 M918.50 176.90H940.02 M1291.50 348.50V343.35 M918.50 170.04H929.26 M1305.84 348.50V343.35 M918.50 163.17H929.26 M1320.19 348.50V343.35 M918.50 156.31H929.26 M1334.53 348.50V343.35 M918.50 149.44H929.26 M1348.88 348.50V338.20 M918.50 142.58H940.02 M1363.23 348.50V343.35 M918.50 135.72H929.26 M1377.57 348.50V343.35 M918.50 128.85H929.26 M1391.92 348.50V343.35 M918.50 121.99H929.26 M1406.26 348.50V343.35 M918.50 115.12H929.26 M1420.61 348.50V338.20 M918.50 108.26H940.02 M1434.96 348.50V343.35 M918.50 101.40H929.26 M1449.30 348.50V343.35 M918.50 94.53H929.26 M1463.65 348.50V343.35 M918.50 87.67H929.26 M1477.99 348.50V343.35 M918.50 80.80H929.26 M1492.34 348.50V338.20 M918.50 73.94H940.02 M1506.69 348.50V343.35 M918.50 67.08H929.26 M1521.03 348.50V343.35 M918.50 60.21H929.26 M1535.38 348.50V343.35 M918.50 53.35H929.26 M1549.72 348.50V343.35 M918.50 46.48H929.26 M1564.07 348.50V338.20 M918.50 39.62H940.02 M1578.42 348.50V343.35 M918.50 32.76H929.26 M1592.76 348.50V343.35 M918.50 25.89H929.26 M1607.11 348.50V343.35 M918.50 19.03H929.26 M1621.45 348.50V343.35 M918.50 12.16H929.26" stroke="#222" stroke-width="1" fill="none"/>
<text x="918.50" y="362.10" text-anchor="middle" class="t">0</text>
<text x="912.90" y="354.10" text-anchor="end" class="t">0</text>
<text x="990.23" y="362.10" text-anchor="middle" class="t">1</text>
<text x="912.90" y="319.78" text-anchor="end" class="t">1</text>
<text x="1061.96" y="362.10" text-anchor="middle" class="t">2</text>
<text x="912.90" y="285.46" text-anchor="end" class="t">2</text>
<text x="1133.69" y="362.10" text-anchor="middle" class="t">3</text>
<text x="912.90" y="251.14" text-anchor="end" class="t">3</text>
<text x="1205.42" y="362.10" text-anchor="middle" class="t">4</text>
<text x="912.90" y="216.82" text-anchor="end" class="t">4</text>
<text x="1277.15" y="362.10" text-anchor="middle" class="t">5</text>
<text x="912.90" y="182.50" text-anchor="end" class="t">5</text>
<text x="1348.88" y="362.10" text-anchor="middle" class="t">6</text>
<text x="912.90" y="148.18" text-anchor="end" class="t">6</text>
<text x="1420.61" y="362.10" text-anchor="middle" class="t">7</text>
<text x="912.90" y="113.86" text-anchor="end" class="t">7</text>
<text x="1492.34" y="362.10" text-anchor="middle" class="t">8</text>
<text x="912.90" y="79.54" text-anchor="end" class="t">8</text>
<text x="1564.07" y="362.10" text-anchor="middle" class="t">9</text>
<text x="912.90" y="45.22" text-anchor="end" class="t">9</text>
<text x="1635.80" y="362.10" text-anchor="middle" class="t">10</text>
<text x="912.90" y="10.90" text-anchor="end" class="t">10</text>
<text x="1283.50" y="381.50" textLength="299" lengthAdjust="spacingAndGlyphs" class="ti">Recovered Total Deposited Energy</text>
<text x="1585.20" y="381.50" textLength="53.3" lengthAdjust="spacingAndGlyphs" class="ti">(MeV)</text>
<text transform="translate(890.80,196.00) rotate(-90)" textLength="135.3" lengthAdjust="spacingAndGlyphs" class="ti">Primary Energy</text>
<text transform="translate(890.80,57.90) rotate(-90)" textLength="52.2" lengthAdjust="spacingAndGlyphs" class="ti">(MeV)</text>
<rect x="1640.5" y="331.34" width="40.80" height="17.46" fill="#263ea8" shape-rendering="crispEdges"/>
<rect x="1640.5" y="314.18" width="40.80" height="17.46" fill="#1652cd" shape-rendering="crispEdges"/>
<rect x="1640.5" y="297.02" width="40.80" height="17.46" fill="#1064dc" shape-rendering="crispEdges"/>
<rect x="1640.5" y="279.86" width="40.80" height="17.46" fill="#1272d9" shape-rendering="crispEdges"/>
<rect x="1640.5" y="262.70" width="40.80" height="17.46" fill="#1481d6" shape-rendering="crispEdges"/>
<rect x="1640.5" y="245.54" width="40.80" height="17.46" fill="#0e8fd1" shape-rendering="crispEdges"/>
<rect x="1640.5" y="228.38" width="40.80" height="17.46" fill="#099dcc" shape-rendering="crispEdges"/>
<rect x="1640.5" y="211.22" width="40.80" height="17.46" fill="#0da7c3" shape-rendering="crispEdges"/>
<rect x="1640.5" y="194.06" width="40.80" height="17.46" fill="#1eafb3" shape-rendering="crispEdges"/>
<rect x="1640.5" y="176.90" width="40.80" height="17.46" fill="#2eb7a4" shape-rendering="crispEdges"/>
<rect x="1640.5" y="159.74" width="40.80" height="17.46" fill="#52ba92" shape-rendering="crispEdges"/>
<rect x="1640.5" y="142.58" width="40.80" height="17.46" fill="#74bd81" shape-rendering="crispEdges"/>
<rect x="1640.5" y="125.42" width="40.80" height="17.46" fill="#95be71" shape-rendering="crispEdges"/>
<rect x="1640.5" y="108.26" width="40.80" height="17.46" fill="#b3bd65" shape-rendering="crispEdges"/>
<rect x="1640.5" y="91.10" width="40.80" height="17.46" fill="#d1bb59" shape-rendering="crispEdges"/>
<rect x="1640.5" y="73.94" width="40.80" height="17.46" fill="#e2c04b" shape-rendering="crispEdges"/>
<rect x="1640.5" y="56.78" width="40.80" height="17.46" fill="#f4c63b" shape-rendering="crispEdges"/>
<rect x="1640.5" y="39.62" width="40.80" height="17.46" fill="#fdd22b" shape-rendering="crispEdges"/>
<rect x="1640.5" y="22.46" width="40.80" height="17.46" fill="#fbe61d" shape-rendering="crispEdges"/>
<rect x="1640.5" y="5.30" width="40.80" height="17.46" fill="#f9f90f" shape-rendering="crispEdges"/>
<path d="M1681.30 5.3V348.5" stroke="#333" stroke-width="1.2"/>
<text x="1685.90" y="353.00" class="t">0</text>
<text x="1685.90" y="302.71" class="t">200</text>
<text x="1685.90" y="252.43" class="t">400</text>
<text x="1685.90" y="202.14" class="t">600</text>
<text x="1685.90" y="151.86" class="t">800</text>
<text x="1685.90" y="101.57" class="t">1000</text>
<text x="1685.90" y="51.29" class="t">1200</text>
<path d="M1681.30 348.50H1659.80 M1681.30 298.21H1659.80 M1681.30 247.93H1659.80 M1681.30 197.64H1659.80 M1681.30 147.36H1659.80 M1681.30 97.07H1659.80 M1681.30 46.79H1659.80" stroke="#222" stroke-width="1" fill="none"/>
<text x="959.0" y="46.8" textLength="28.9" lengthAdjust="spacingAndGlyphs" class="lb">(b)</text>
<rect x="43.00" y="768.77" width="7.18" height="3.43" fill="#263ea8" shape-rendering="crispEdges"/>
<rect x="71.72" y="768.77" width="7.18" height="3.43" fill="#263ea8" shape-rendering="crispEdges"/>
<rect x="107.62" y="768.77" width="7.18" height="3.43" fill="#263ea8" shape-rendering="crispEdges"/>
<rect x="121.98" y="768.77" width="7.18" height="3.43" fill="#263ea8" shape-rendering="crispEdges"/>
<rect x="136.34" y="768.77" width="7.18" height="3.43" fill="#263ea8" shape-rendering="crispEdges"/>
<rect x="150.70" y="768.77" width="14.36" height="3.43" fill="#263ea8" shape-rendering="crispEdges"/>
<rect x="64.54" y="758.50" width="14.36" height="3.43" fill="#263ea8" shape-rendering="crispEdges"/>
<rect x="71.72" y="755.07" width="7.18" height="3.43" fill="#1064dc" shape-rendering="crispEdges"/>
<rect x="78.90" y="755.07" width="7.18" height="3.43" fill="#263ea8" shape-rendering="crispEdges"/>
<rect x="78.90" y="751.64" width="7.18" height="3.43" fill="#1064dc" shape-rendering="crispEdges"/>
<rect x="86.08" y="751.64" width="7.18" height="3.43" fill="#263ea8" shape-rendering="crispEdges"/>
<rect x="86.08" y="748.22" width="7.18" height="3.43" fill="#099dcc" shape-rendering="crispEdges"/>
<rect x="93.26" y="748.22" width="7.18" height="3.43" fill="#263ea8" shape-rendering="crispEdges"/>
<rect x="78.90" y="744.79" width="14.36" height="3.43" fill="#263ea8" shape-rendering="crispEdges"/>
<rect x="93.26" y="744.79" width="7.18" height="3.43" fill="#f9f90f" shape-rendering="crispEdges"/>
<rect x="100.44" y="744.79" width="7.18" height="3.43" fill="#263ea8" shape-rendering="crispEdges"/>
<rect x="86.08" y="741.37" width="7.18" height="3.43" fill="#263ea8" shape-rendering="crispEdges"/>
<rect x="100.44" y="741.37" width="7.18" height="3.43" fill="#1eafb3" shape-rendering="crispEdges"/>
<rect x="107.62" y="741.37" width="7.18" height="3.43" fill="#263ea8" shape-rendering="crispEdges"/>
<rect x="93.26" y="737.94" width="14.36" height="3.43" fill="#263ea8" shape-rendering="crispEdges"/>
<rect x="107.62" y="737.94" width="7.18" height="3.43" fill="#52ba92" shape-rendering="crispEdges"/>
<rect x="114.80" y="737.94" width="14.36" height="3.43" fill="#263ea8" shape-rendering="crispEdges"/>
<rect x="107.62" y="734.51" width="7.18" height="3.43" fill="#263ea8" shape-rendering="crispEdges"/>
<rect x="114.80" y="734.51" width="7.18" height="3.43" fill="#2eb7a4" shape-rendering="crispEdges"/>
<rect x="121.98" y="734.51" width="7.18" height="3.43" fill="#263ea8" shape-rendering="crispEdges"/>
<rect x="107.62" y="731.09" width="14.36" height="3.43" fill="#263ea8" shape-rendering="crispEdges"/>
<rect x="121.98" y="731.09" width="7.18" height="3.43" fill="#099dcc" shape-rendering="crispEdges"/>
<rect x="129.16" y="731.09" width="7.18" height="3.43" fill="#263ea8" shape-rendering="crispEdges"/>
<rect x="114.80" y="727.66" width="14.36" height="3.43" fill="#263ea8" shape-rendering="crispEdges"/>
<rect x="129.16" y="727.66" width="7.18" height="3.43" fill="#1481d6" shape-rendering="crispEdges"/>
<rect x="136.34" y="727.66" width="7.18" height="3.43" fill="#263ea8" shape-rendering="crispEdges"/>
<rect x="136.34" y="724.24" width="7.18" height="3.43" fill="#1272d9" shape-rendering="crispEdges"/>
<rect x="143.52" y="724.24" width="7.18" height="3.43" fill="#263ea8" shape-rendering="crispEdges"/>
<rect x="143.52" y="720.81" width="7.18" height="3.43" fill="#1272d9" shape-rendering="crispEdges"/>
<rect x="150.70" y="720.81" width="7.18" height="3.43" fill="#263ea8" shape-rendering="crispEdges"/>
<rect x="143.52" y="717.38" width="7.18" height="3.43" fill="#263ea8" shape-rendering="crispEdges"/>
<rect x="150.70" y="717.38" width="7.18" height="3.43" fill="#1272d9" shape-rendering="crispEdges"/>
<rect x="157.88" y="717.38" width="7.18" height="3.43" fill="#263ea8" shape-rendering="crispEdges"/>
<rect x="150.70" y="713.96" width="7.18" height="3.43" fill="#263ea8" shape-rendering="crispEdges"/>
<rect x="157.88" y="713.96" width="7.18" height="3.43" fill="#1481d6" shape-rendering="crispEdges"/>
<rect x="165.06" y="713.96" width="7.18" height="3.43" fill="#263ea8" shape-rendering="crispEdges"/>
<rect x="157.88" y="710.53" width="7.18" height="3.43" fill="#263ea8" shape-rendering="crispEdges"/>
<rect x="165.06" y="710.53" width="7.18" height="3.43" fill="#1272d9" shape-rendering="crispEdges"/>
<rect x="172.24" y="710.53" width="7.18" height="3.43" fill="#263ea8" shape-rendering="crispEdges"/>
<rect x="165.06" y="707.11" width="7.18" height="3.43" fill="#263ea8" shape-rendering="crispEdges"/>
<rect x="172.24" y="707.11" width="7.18" height="3.43" fill="#1481d6" shape-rendering="crispEdges"/>
<rect x="157.88" y="703.68" width="7.18" height="3.43" fill="#263ea8" shape-rendering="crispEdges"/>
<rect x="172.24" y="703.68" width="7.18" height="3.43" fill="#263ea8" shape-rendering="crispEdges"/>
<rect x="179.42" y="703.68" width="7.18" height="3.43" fill="#1481d6" shape-rendering="crispEdges"/>
<rect x="179.42" y="700.25" width="7.18" height="3.43" fill="#263ea8" shape-rendering="crispEdges"/>
<rect x="186.60" y="703.68" width="7.18" height="3.43" fill="#263ea8" shape-rendering="crispEdges"/>
<rect x="186.60" y="700.25" width="7.18" height="3.43" fill="#1064dc" shape-rendering="crispEdges"/>
<rect x="186.60" y="696.83" width="7.18" height="3.43" fill="#263ea8" shape-rendering="crispEdges"/>
<rect x="193.78" y="700.25" width="7.18" height="3.43" fill="#263ea8" shape-rendering="crispEdges"/>
<rect x="193.78" y="696.83" width="7.18" height="3.43" fill="#1064dc" shape-rendering="crispEdges"/>
<rect x="193.78" y="693.40" width="7.18" height="3.43" fill="#263ea8" shape-rendering="crispEdges"/>
<rect x="193.78" y="689.98" width="7.18" height="3.43" fill="#263ea8" shape-rendering="crispEdges"/>
<rect x="200.96" y="696.83" width="7.18" height="3.43" fill="#263ea8" shape-rendering="crispEdges"/>
<rect x="200.96" y="693.40" width="7.18" height="3.43" fill="#1064dc" shape-rendering="crispEdges"/>
<rect x="200.96" y="689.98" width="7.18" height="3.43" fill="#263ea8" shape-rendering="crispEdges"/>
<rect x="208.14" y="693.40" width="7.18" height="3.43" fill="#263ea8" shape-rendering="crispEdges"/>
<rect x="208.14" y="689.98" width="7.18" height="3.43" fill="#1064dc" shape-rendering="crispEdges"/>
<rect x="208.14" y="686.55" width="7.18" height="3.43" fill="#263ea8" shape-rendering="crispEdges"/>
<rect x="215.32" y="689.98" width="7.18" height="3.43" fill="#263ea8" shape-rendering="crispEdges"/>
<rect x="215.32" y="686.55" width="7.18" height="3.43" fill="#1064dc" shape-rendering="crispEdges"/>
<rect x="215.32" y="683.12" width="7.18" height="3.43" fill="#263ea8" shape-rendering="crispEdges"/>
<rect x="222.50" y="686.55" width="7.18" height="3.43" fill="#263ea8" shape-rendering="crispEdges"/>
<rect x="222.50" y="683.12" width="7.18" height="3.43" fill="#1064dc" shape-rendering="crispEdges"/>
<rect x="222.50" y="679.70" width="7.18" height="3.43" fill="#263ea8" shape-rendering="crispEdges"/>
<rect x="229.68" y="683.12" width="7.18" height="3.43" fill="#263ea8" shape-rendering="crispEdges"/>
<rect x="229.68" y="679.70" width="7.18" height="3.43" fill="#1064dc" shape-rendering="crispEdges"/>
<rect x="229.68" y="676.27" width="7.18" height="3.43" fill="#263ea8" shape-rendering="crispEdges"/>
<rect x="229.68" y="672.85" width="7.18" height="3.43" fill="#263ea8" shape-rendering="crispEdges"/>
<rect x="236.86" y="679.70" width="7.18" height="3.43" fill="#263ea8" shape-rendering="crispEdges"/>
<rect x="236.86" y="676.27" width="7.18" height="3.43" fill="#1064dc" shape-rendering="crispEdges"/>
<rect x="236.86" y="672.85" width="7.18" height="3.43" fill="#263ea8" shape-rendering="crispEdges"/>
<rect x="236.86" y="686.55" width="7.18" height="3.43" fill="#263ea8" shape-rendering="crispEdges"/>
<rect x="244.04" y="676.27" width="7.18" height="3.43" fill="#263ea8" shape-rendering="crispEdges"/>
<rect x="244.04" y="672.85" width="7.18" height="3.43" fill="#1064dc" shape-rendering="crispEdges"/>
<rect x="244.04" y="669.42" width="7.18" height="3.43" fill="#263ea8" shape-rendering="crispEdges"/>
<rect x="251.22" y="672.85" width="7.18" height="3.43" fill="#263ea8" shape-rendering="crispEdges"/>
<rect x="251.22" y="669.42" width="7.18" height="3.43" fill="#263ea8" shape-rendering="crispEdges"/>
<rect x="258.40" y="669.42" width="7.18" height="3.43" fill="#263ea8" shape-rendering="crispEdges"/>
<rect x="258.40" y="665.99" width="7.18" height="3.43" fill="#1064dc" shape-rendering="crispEdges"/>
<rect x="265.58" y="665.99" width="7.18" height="3.43" fill="#263ea8" shape-rendering="crispEdges"/>
<rect x="265.58" y="662.57" width="7.18" height="3.43" fill="#1064dc" shape-rendering="crispEdges"/>
<rect x="265.58" y="659.14" width="7.18" height="3.43" fill="#263ea8" shape-rendering="crispEdges"/>
<rect x="265.58" y="648.86" width="7.18" height="3.43" fill="#263ea8" shape-rendering="crispEdges"/>
<rect x="272.76" y="662.57" width="7.18" height="3.43" fill="#263ea8" shape-rendering="crispEdges"/>
<rect x="272.76" y="659.14" width="7.18" height="3.43" fill="#1064dc" shape-rendering="crispEdges"/>
<rect x="272.76" y="655.72" width="7.18" height="3.43" fill="#263ea8" shape-rendering="crispEdges"/>
<rect x="279.94" y="659.14" width="7.18" height="3.43" fill="#263ea8" shape-rendering="crispEdges"/>
<rect x="279.94" y="655.72" width="7.18" height="3.43" fill="#263ea8" shape-rendering="crispEdges"/>
<rect x="287.12" y="655.72" width="7.18" height="3.43" fill="#263ea8" shape-rendering="crispEdges"/>
<rect x="287.12" y="652.29" width="7.18" height="3.43" fill="#1064dc" shape-rendering="crispEdges"/>
<rect x="287.12" y="648.86" width="7.18" height="3.43" fill="#263ea8" shape-rendering="crispEdges"/>
<rect x="294.30" y="652.29" width="7.18" height="3.43" fill="#263ea8" shape-rendering="crispEdges"/>
<rect x="294.30" y="648.86" width="7.18" height="3.43" fill="#1064dc" shape-rendering="crispEdges"/>
<rect x="294.30" y="645.44" width="7.18" height="3.43" fill="#263ea8" shape-rendering="crispEdges"/>
<rect x="294.30" y="696.83" width="7.18" height="3.43" fill="#263ea8" shape-rendering="crispEdges"/>
<rect x="301.48" y="648.86" width="7.18" height="3.43" fill="#263ea8" shape-rendering="crispEdges"/>
<rect x="301.48" y="645.44" width="7.18" height="3.43" fill="#263ea8" shape-rendering="crispEdges"/>
<rect x="308.66" y="645.44" width="7.18" height="3.43" fill="#263ea8" shape-rendering="crispEdges"/>
<rect x="308.66" y="642.01" width="7.18" height="3.43" fill="#263ea8" shape-rendering="crispEdges"/>
<rect x="308.66" y="642.01" width="7.18" height="3.43" fill="#1064dc" shape-rendering="crispEdges"/>
<rect x="308.66" y="638.59" width="7.18" height="3.43" fill="#263ea8" shape-rendering="crispEdges"/>
<rect x="315.84" y="642.01" width="7.18" height="3.43" fill="#263ea8" shape-rendering="crispEdges"/>
<rect x="315.84" y="638.59" width="7.18" height="3.43" fill="#1064dc" shape-rendering="crispEdges"/>
<rect x="315.84" y="635.16" width="7.18" height="3.43" fill="#263ea8" shape-rendering="crispEdges"/>
<rect x="323.02" y="638.59" width="7.18" height="3.43" fill="#263ea8" shape-rendering="crispEdges"/>
<rect x="323.02" y="635.16" width="7.18" height="3.43" fill="#1064dc" shape-rendering="crispEdges"/>
<rect x="323.02" y="631.73" width="7.18" height="3.43" fill="#263ea8" shape-rendering="crispEdges"/>
<rect x="323.02" y="628.31" width="7.18" height="3.43" fill="#263ea8" shape-rendering="crispEdges"/>
<rect x="330.20" y="638.59" width="7.18" height="3.43" fill="#263ea8" shape-rendering="crispEdges"/>
<rect x="330.20" y="635.16" width="7.18" height="3.43" fill="#263ea8" shape-rendering="crispEdges"/>
<rect x="330.20" y="631.73" width="7.18" height="3.43" fill="#1064dc" shape-rendering="crispEdges"/>
<rect x="330.20" y="590.62" width="7.18" height="3.43" fill="#263ea8" shape-rendering="crispEdges"/>
<rect x="330.20" y="618.03" width="7.18" height="3.43" fill="#263ea8" shape-rendering="crispEdges"/>
<rect x="337.38" y="631.73" width="7.18" height="3.43" fill="#263ea8" shape-rendering="crispEdges"/>
<rect x="337.38" y="628.31" width="7.18" height="3.43" fill="#263ea8" shape-rendering="crispEdges"/>
<rect x="344.56" y="628.31" width="7.18" height="3.43" fill="#263ea8" shape-rendering="crispEdges"/>
<rect x="344.56" y="624.88" width="7.18" height="3.43" fill="#1064dc" shape-rendering="crispEdges"/>
<rect x="351.74" y="628.31" width="7.18" height="3.43" fill="#263ea8" shape-rendering="crispEdges"/>
<rect x="351.74" y="624.88" width="7.18" height="3.43" fill="#263ea8" shape-rendering="crispEdges"/>
<rect x="351.74" y="621.46" width="7.18" height="3.43" fill="#1064dc" shape-rendering="crispEdges"/>
<rect x="351.74" y="618.03" width="7.18" height="3.43" fill="#263ea8" shape-rendering="crispEdges"/>
<rect x="351.74" y="611.18" width="7.18" height="3.43" fill="#263ea8" shape-rendering="crispEdges"/>
<rect x="351.74" y="604.33" width="7.18" height="3.43" fill="#263ea8" shape-rendering="crispEdges"/>
<rect x="351.74" y="600.90" width="7.18" height="3.43" fill="#263ea8" shape-rendering="crispEdges"/>
<rect x="358.92" y="621.46" width="7.18" height="3.43" fill="#263ea8" shape-rendering="crispEdges"/>
<rect x="358.92" y="618.03" width="7.18" height="3.43" fill="#0e8fd1" shape-rendering="crispEdges"/>
<rect x="358.92" y="614.60" width="7.18" height="3.43" fill="#263ea8" shape-rendering="crispEdges"/>
<rect x="366.10" y="621.46" width="7.18" height="3.43" fill="#263ea8" shape-rendering="crispEdges"/>
<rect x="366.10" y="618.03" width="7.18" height="3.43" fill="#1064dc" shape-rendering="crispEdges"/>
<rect x="366.10" y="614.60" width="7.18" height="3.43" fill="#1064dc" shape-rendering="crispEdges"/>
<rect x="366.10" y="611.18" width="7.18" height="3.43" fill="#263ea8" shape-rendering="crispEdges"/>
<rect x="373.28" y="618.03" width="7.18" height="3.43" fill="#263ea8" shape-rendering="crispEdges"/>
<rect x="373.28" y="614.60" width="7.18" height="3.43" fill="#263ea8" shape-rendering="crispEdges"/>
<rect x="373.28" y="611.18" width="7.18" height="3.43" fill="#1064dc" shape-rendering="crispEdges"/>
<rect x="373.28" y="600.90" width="7.18" height="3.43" fill="#263ea8" shape-rendering="crispEdges"/>
<rect x="380.46" y="614.60" width="7.18" height="3.43" fill="#263ea8" shape-rendering="crispEdges"/>
<rect x="380.46" y="611.18" width="7.18" height="3.43" fill="#263ea8" shape-rendering="crispEdges"/>
<rect x="380.46" y="607.75" width="7.18" height="3.43" fill="#1064dc" shape-rendering="crispEdges"/>
<rect x="380.46" y="604.33" width="7.18" height="3.43" fill="#263ea8" shape-rendering="crispEdges"/>
<rect x="387.64" y="611.18" width="7.18" height="3.43" fill="#263ea8" shape-rendering="crispEdges"/>
<rect x="387.64" y="607.75" width="7.18" height="3.43" fill="#263ea8" shape-rendering="crispEdges"/>
<rect x="387.64" y="604.33" width="7.18" height="3.43" fill="#263ea8" shape-rendering="crispEdges"/>
<rect x="387.64" y="600.90" width="7.18" height="3.43" fill="#263ea8" shape-rendering="crispEdges"/>
<rect x="394.82" y="607.75" width="7.18" height="3.43" fill="#263ea8" shape-rendering="crispEdges"/>
<rect x="394.82" y="604.33" width="7.18" height="3.43" fill="#263ea8" shape-rendering="crispEdges"/>
<rect x="394.82" y="600.90" width="7.18" height="3.43" fill="#263ea8" shape-rendering="crispEdges"/>
<rect x="394.82" y="597.47" width="7.18" height="3.43" fill="#263ea8" shape-rendering="crispEdges"/>
<rect x="394.82" y="587.20" width="7.18" height="3.43" fill="#263ea8" shape-rendering="crispEdges"/>
<rect x="402.00" y="604.33" width="7.18" height="3.43" fill="#263ea8" shape-rendering="crispEdges"/>
<rect x="402.00" y="600.90" width="7.18" height="3.43" fill="#263ea8" shape-rendering="crispEdges"/>
<rect x="402.00" y="597.47" width="7.18" height="3.43" fill="#263ea8" shape-rendering="crispEdges"/>
<rect x="409.18" y="600.90" width="7.18" height="3.43" fill="#263ea8" shape-rendering="crispEdges"/>
<rect x="409.18" y="597.47" width="7.18" height="3.43" fill="#263ea8" shape-rendering="crispEdges"/>
<rect x="409.18" y="594.05" width="7.18" height="3.43" fill="#263ea8" shape-rendering="crispEdges"/>
<rect x="409.18" y="590.62" width="7.18" height="3.43" fill="#263ea8" shape-rendering="crispEdges"/>
<rect x="416.36" y="597.47" width="7.18" height="3.43" fill="#263ea8" shape-rendering="crispEdges"/>
<rect x="416.36" y="594.05" width="7.18" height="3.43" fill="#263ea8" shape-rendering="crispEdges"/>
<rect x="416.36" y="590.62" width="7.18" height="3.43" fill="#1064dc" shape-rendering="crispEdges"/>
<rect x="423.54" y="594.05" width="7.18" height="3.43" fill="#263ea8" shape-rendering="crispEdges"/>
<rect x="423.54" y="590.62" width="7.18" height="3.43" fill="#263ea8" shape-rendering="crispEdges"/>
<rect x="423.54" y="587.20" width="7.18" height="3.43" fill="#1064dc" shape-rendering="crispEdges"/>
<rect x="430.72" y="590.62" width="7.18" height="3.43" fill="#263ea8" shape-rendering="crispEdges"/>
<rect x="430.72" y="587.20" width="7.18" height="3.43" fill="#263ea8" shape-rendering="crispEdges"/>
<rect x="437.90" y="587.20" width="7.18" height="3.43" fill="#263ea8" shape-rendering="crispEdges"/>
<rect x="430.72" y="583.77" width="7.18" height="3.43" fill="#263ea8" shape-rendering="crispEdges"/>
<rect x="437.90" y="587.20" width="7.18" height="3.43" fill="#263ea8" shape-rendering="crispEdges"/>
<rect x="437.90" y="583.77" width="7.18" height="3.43" fill="#263ea8" shape-rendering="crispEdges"/>
<rect x="437.90" y="580.34" width="7.18" height="3.43" fill="#263ea8" shape-rendering="crispEdges"/>
<rect x="437.90" y="576.92" width="7.18" height="3.43" fill="#263ea8" shape-rendering="crispEdges"/>
<rect x="445.08" y="583.77" width="7.18" height="3.43" fill="#263ea8" shape-rendering="crispEdges"/>
<rect x="445.08" y="580.34" width="7.18" height="3.43" fill="#263ea8" shape-rendering="crispEdges"/>
<rect x="445.08" y="576.92" width="7.18" height="3.43" fill="#263ea8" shape-rendering="crispEdges"/>
<rect x="452.26" y="580.34" width="7.18" height="3.43" fill="#263ea8" shape-rendering="crispEdges"/>
<rect x="452.26" y="576.92" width="7.18" height="3.43" fill="#263ea8" shape-rendering="crispEdges"/>
<rect x="452.26" y="573.49" width="7.18" height="3.43" fill="#263ea8" shape-rendering="crispEdges"/>
<rect x="459.44" y="576.92" width="7.18" height="3.43" fill="#263ea8" shape-rendering="crispEdges"/>
<rect x="459.44" y="573.49" width="7.18" height="3.43" fill="#263ea8" shape-rendering="crispEdges"/>
<rect x="459.44" y="570.07" width="7.18" height="3.43" fill="#263ea8" shape-rendering="crispEdges"/>
<rect x="459.44" y="566.64" width="7.18" height="3.43" fill="#263ea8" shape-rendering="crispEdges"/>
<rect x="466.62" y="573.49" width="7.18" height="3.43" fill="#263ea8" shape-rendering="crispEdges"/>
<rect x="466.62" y="570.07" width="7.18" height="3.43" fill="#263ea8" shape-rendering="crispEdges"/>
<rect x="466.62" y="566.64" width="7.18" height="3.43" fill="#263ea8" shape-rendering="crispEdges"/>
<rect x="466.62" y="563.21" width="7.18" height="3.43" fill="#263ea8" shape-rendering="crispEdges"/>
<rect x="466.62" y="559.79" width="7.18" height="3.43" fill="#263ea8" shape-rendering="crispEdges"/>
<rect x="473.80" y="570.07" width="7.18" height="3.43" fill="#263ea8" shape-rendering="crispEdges"/>
<rect x="473.80" y="566.64" width="7.18" height="3.43" fill="#263ea8" shape-rendering="crispEdges"/>
<rect x="473.80" y="563.21" width="7.18" height="3.43" fill="#263ea8" shape-rendering="crispEdges"/>
<rect x="473.80" y="559.79" width="7.18" height="3.43" fill="#263ea8" shape-rendering="crispEdges"/>
<rect x="480.98" y="570.07" width="7.18" height="3.43" fill="#263ea8" shape-rendering="crispEdges"/>
<rect x="480.98" y="566.64" width="7.18" height="3.43" fill="#263ea8" shape-rendering="crispEdges"/>
<rect x="480.98" y="563.21" width="7.18" height="3.43" fill="#263ea8" shape-rendering="crispEdges"/>
<rect x="480.98" y="559.79" width="7.18" height="3.43" fill="#263ea8" shape-rendering="crispEdges"/>
<rect x="480.98" y="556.36" width="7.18" height="3.43" fill="#263ea8" shape-rendering="crispEdges"/>
<rect x="488.16" y="559.79" width="7.18" height="3.43" fill="#263ea8" shape-rendering="crispEdges"/>
<rect x="488.16" y="556.36" width="7.18" height="3.43" fill="#1064dc" shape-rendering="crispEdges"/>
<rect x="488.16" y="552.94" width="7.18" height="3.43" fill="#263ea8" shape-rendering="crispEdges"/>
<rect x="488.16" y="566.64" width="7.18" height="3.43" fill="#263ea8" shape-rendering="crispEdges"/>
<rect x="495.34" y="559.79" width="7.18" height="3.43" fill="#263ea8" shape-rendering="crispEdges"/>
<rect x="495.34" y="556.36" width="7.18" height="3.43" fill="#1064dc" shape-rendering="crispEdges"/>
<rect x="495.34" y="552.94" width="7.18" height="3.43" fill="#263ea8" shape-rendering="crispEdges"/>
<rect x="495.34" y="549.51" width="7.18" height="3.43" fill="#263ea8" shape-rendering="crispEdges"/>
<rect x="495.34" y="542.66" width="7.18" height="3.43" fill="#263ea8" shape-rendering="crispEdges"/>
<rect x="502.52" y="556.36" width="7.18" height="3.43" fill="#263ea8" shape-rendering="crispEdges"/>
<rect x="502.52" y="552.94" width="7.18" height="3.43" fill="#263ea8" shape-rendering="crispEdges"/>
<rect x="502.52" y="549.51" width="7.18" height="3.43" fill="#263ea8" shape-rendering="crispEdges"/>
<rect x="509.70" y="552.94" width="7.18" height="3.43" fill="#263ea8" shape-rendering="crispEdges"/>
<rect x="509.70" y="549.51" width="7.18" height="3.43" fill="#263ea8" shape-rendering="crispEdges"/>
<rect x="509.70" y="546.08" width="7.18" height="3.43" fill="#263ea8" shape-rendering="crispEdges"/>
<rect x="509.70" y="542.66" width="7.18" height="3.43" fill="#263ea8" shape-rendering="crispEdges"/>
<rect x="516.88" y="552.94" width="7.18" height="3.43" fill="#263ea8" shape-rendering="crispEdges"/>
<rect x="516.88" y="549.51" width="7.18" height="3.43" fill="#263ea8" shape-rendering="crispEdges"/>
<rect x="516.88" y="546.08" width="7.18" height="3.43" fill="#263ea8" shape-rendering="crispEdges"/>
<rect x="516.88" y="542.66" width="7.18" height="3.43" fill="#263ea8" shape-rendering="crispEdges"/>
<rect x="524.06" y="549.51" width="7.18" height="3.43" fill="#263ea8" shape-rendering="crispEdges"/>
<rect x="524.06" y="546.08" width="7.18" height="3.43" fill="#263ea8" shape-rendering="crispEdges"/>
<rect x="524.06" y="542.66" width="7.18" height="3.43" fill="#263ea8" shape-rendering="crispEdges"/>
<rect x="524.06" y="539.23" width="7.18" height="3.43" fill="#263ea8" shape-rendering="crispEdges"/>
<rect x="531.24" y="542.66" width="7.18" height="3.43" fill="#263ea8" shape-rendering="crispEdges"/>
<rect x="531.24" y="539.23" width="7.18" height="3.43" fill="#263ea8" shape-rendering="crispEdges"/>
<rect x="531.24" y="535.81" width="7.18" height="3.43" fill="#263ea8" shape-rendering="crispEdges"/>
<rect x="538.42" y="539.23" width="7.18" height="3.43" fill="#263ea8" shape-rendering="crispEdges"/>
<rect x="538.42" y="535.81" width="7.18" height="3.43" fill="#263ea8" shape-rendering="crispEdges"/>
<rect x="538.42" y="532.38" width="7.18" height="3.43" fill="#263ea8" shape-rendering="crispEdges"/>
<rect x="545.60" y="535.81" width="7.18" height="3.43" fill="#263ea8" shape-rendering="crispEdges"/>
<rect x="545.60" y="532.38" width="7.18" height="3.43" fill="#263ea8" shape-rendering="crispEdges"/>
<rect x="552.78" y="532.38" width="7.18" height="3.43" fill="#263ea8" shape-rendering="crispEdges"/>
<rect x="538.42" y="528.95" width="7.18" height="3.43" fill="#263ea8" shape-rendering="crispEdges"/>
<rect x="545.60" y="535.81" width="7.18" height="3.43" fill="#263ea8" shape-rendering="crispEdges"/>
<rect x="545.60" y="532.38" width="7.18" height="3.43" fill="#263ea8" shape-rendering="crispEdges"/>
<rect x="545.60" y="528.95" width="7.18" height="3.43" fill="#263ea8" shape-rendering="crispEdges"/>
<rect x="545.60" y="525.53" width="7.18" height="3.43" fill="#263ea8" shape-rendering="crispEdges"/>
<rect x="545.60" y="511.82" width="7.18" height="3.43" fill="#263ea8" shape-rendering="crispEdges"/>
<rect x="552.78" y="532.38" width="7.18" height="3.43" fill="#263ea8" shape-rendering="crispEdges"/>
<rect x="552.78" y="528.95" width="7.18" height="3.43" fill="#263ea8" shape-rendering="crispEdges"/>
<rect x="552.78" y="525.53" width="7.18" height="3.43" fill="#263ea8" shape-rendering="crispEdges"/>
<rect x="552.78" y="504.97" width="7.18" height="3.43" fill="#263ea8" shape-rendering="crispEdges"/>
<rect x="559.96" y="528.95" width="7.18" height="3.43" fill="#263ea8" shape-rendering="crispEdges"/>
<rect x="559.96" y="525.53" width="7.18" height="3.43" fill="#263ea8" shape-rendering="crispEdges"/>
<rect x="559.96" y="522.10" width="7.18" height="3.43" fill="#263ea8" shape-rendering="crispEdges"/>
<rect x="559.96" y="518.68" width="7.18" height="3.43" fill="#263ea8" shape-rendering="crispEdges"/>
<rect x="567.14" y="525.53" width="7.18" height="3.43" fill="#263ea8" shape-rendering="crispEdges"/>
<rect x="567.14" y="522.10" width="7.18" height="3.43" fill="#263ea8" shape-rendering="crispEdges"/>
<rect x="567.14" y="518.68" width="7.18" height="3.43" fill="#263ea8" shape-rendering="crispEdges"/>
<rect x="574.32" y="525.53" width="7.18" height="3.43" fill="#263ea8" shape-rendering="crispEdges"/>
<rect x="574.32" y="522.10" width="7.18" height="3.43" fill="#263ea8" shape-rendering="crispEdges"/>
<rect x="574.32" y="518.68" width="7.18" height="3.43" fill="#263ea8" shape-rendering="crispEdges"/>
<rect x="574.32" y="515.25" width="7.18" height="3.43" fill="#263ea8" shape-rendering="crispEdges"/>
<rect x="581.50" y="518.68" width="7.18" height="3.43" fill="#263ea8" shape-rendering="crispEdges"/>
<rect x="581.50" y="515.25" width="7.18" height="3.43" fill="#263ea8" shape-rendering="crispEdges"/>
<rect x="581.50" y="511.82" width="7.18" height="3.43" fill="#263ea8" shape-rendering="crispEdges"/>
<rect x="588.68" y="515.25" width="7.18" height="3.43" fill="#263ea8" shape-rendering="crispEdges"/>
<rect x="588.68" y="508.40" width="7.18" height="3.43" fill="#263ea8" shape-rendering="crispEdges"/>
<rect x="595.86" y="511.82" width="7.18" height="3.43" fill="#263ea8" shape-rendering="crispEdges"/>
<rect x="595.86" y="508.40" width="7.18" height="3.43" fill="#263ea8" shape-rendering="crispEdges"/>
<rect x="595.86" y="504.97" width="7.18" height="3.43" fill="#263ea8" shape-rendering="crispEdges"/>
<rect x="603.04" y="511.82" width="7.18" height="3.43" fill="#263ea8" shape-rendering="crispEdges"/>
<rect x="603.04" y="508.40" width="7.18" height="3.43" fill="#263ea8" shape-rendering="crispEdges"/>
<rect x="603.04" y="504.97" width="7.18" height="3.43" fill="#263ea8" shape-rendering="crispEdges"/>
<rect x="603.04" y="501.55" width="7.18" height="3.43" fill="#263ea8" shape-rendering="crispEdges"/>
<rect x="603.04" y="487.84" width="7.18" height="3.43" fill="#263ea8" shape-rendering="crispEdges"/>
<rect x="610.22" y="501.55" width="7.18" height="3.43" fill="#263ea8" shape-rendering="crispEdges"/>
<rect x="610.22" y="498.12" width="7.18" height="3.43" fill="#263ea8" shape-rendering="crispEdges"/>
<rect x="617.40" y="498.12" width="7.18" height="3.43" fill="#263ea8" shape-rendering="crispEdges"/>
<rect x="617.40" y="494.69" width="7.18" height="3.43" fill="#263ea8" shape-rendering="crispEdges"/>
<rect x="624.58" y="498.12" width="7.18" height="3.43" fill="#263ea8" shape-rendering="crispEdges"/>
<rect x="624.58" y="491.27" width="7.18" height="3.43" fill="#263ea8" shape-rendering="crispEdges"/>
<rect x="631.76" y="491.27" width="7.18" height="3.43" fill="#263ea8" shape-rendering="crispEdges"/>
<rect x="631.76" y="487.84" width="7.18" height="3.43" fill="#263ea8" shape-rendering="crispEdges"/>
<rect x="638.94" y="487.84" width="7.18" height="3.43" fill="#263ea8" shape-rendering="crispEdges"/>
<rect x="638.94" y="484.42" width="7.18" height="3.43" fill="#263ea8" shape-rendering="crispEdges"/>
<rect x="646.12" y="487.84" width="7.18" height="3.43" fill="#263ea8" shape-rendering="crispEdges"/>
<rect x="646.12" y="480.99" width="7.18" height="3.43" fill="#263ea8" shape-rendering="crispEdges"/>
<rect x="653.30" y="484.42" width="7.18" height="3.43" fill="#263ea8" shape-rendering="crispEdges"/>
<rect x="660.48" y="477.56" width="7.18" height="3.43" fill="#263ea8" shape-rendering="crispEdges"/>
<rect x="667.66" y="477.56" width="7.18" height="3.43" fill="#263ea8" shape-rendering="crispEdges"/>
<rect x="660.48" y="470.71" width="7.18" height="3.43" fill="#263ea8" shape-rendering="crispEdges"/>
<rect x="660.48" y="477.56" width="7.18" height="3.43" fill="#263ea8" shape-rendering="crispEdges"/>
<rect x="667.66" y="470.71" width="7.18" height="3.43" fill="#263ea8" shape-rendering="crispEdges"/>
<rect x="667.66" y="477.56" width="7.18" height="3.43" fill="#263ea8" shape-rendering="crispEdges"/>
<rect x="674.84" y="467.29" width="7.18" height="3.43" fill="#263ea8" shape-rendering="crispEdges"/>
<rect x="674.84" y="474.14" width="7.18" height="3.43" fill="#263ea8" shape-rendering="crispEdges"/>
<rect x="682.02" y="470.71" width="7.18" height="3.43" fill="#263ea8" shape-rendering="crispEdges"/>
<rect x="682.02" y="467.29" width="7.18" height="3.43" fill="#263ea8" shape-rendering="crispEdges"/>
<rect x="689.20" y="467.29" width="7.18" height="3.43" fill="#263ea8" shape-rendering="crispEdges"/>
<rect x="696.38" y="457.01" width="7.18" height="3.43" fill="#263ea8" shape-rendering="crispEdges"/>
<rect x="696.38" y="463.86" width="7.18" height="3.43" fill="#263ea8" shape-rendering="crispEdges"/>
<rect x="703.56" y="457.01" width="7.18" height="3.43" fill="#263ea8" shape-rendering="crispEdges"/>
<rect x="710.74" y="450.16" width="7.18" height="3.43" fill="#263ea8" shape-rendering="crispEdges"/>
<rect x="710.74" y="446.73" width="7.18" height="3.43" fill="#263ea8" shape-rendering="crispEdges"/>
<rect x="717.92" y="446.73" width="7.18" height="3.43" fill="#263ea8" shape-rendering="crispEdges"/>
<rect x="717.92" y="443.30" width="7.18" height="3.43" fill="#263ea8" shape-rendering="crispEdges"/>
<rect x="725.10" y="443.30" width="7.18" height="3.43" fill="#263ea8" shape-rendering="crispEdges"/>
<rect x="725.10" y="439.88" width="7.18" height="3.43" fill="#263ea8" shape-rendering="crispEdges"/>
<rect x="732.28" y="446.73" width="7.18" height="3.43" fill="#263ea8" shape-rendering="crispEdges"/>
<rect x="732.28" y="443.30" width="7.18" height="3.43" fill="#263ea8" shape-rendering="crispEdges"/>
<rect x="732.28" y="439.88" width="7.18" height="3.43" fill="#263ea8" shape-rendering="crispEdges"/>
<rect x="739.46" y="436.45" width="7.18" height="3.43" fill="#263ea8" shape-rendering="crispEdges"/>
<rect x="739.46" y="433.03" width="7.18" height="3.43" fill="#263ea8" shape-rendering="crispEdges"/>
<rect x="746.64" y="436.45" width="7.18" height="3.43" fill="#263ea8" shape-rendering="crispEdges"/>
<rect x="753.82" y="429.60" width="7.18" height="3.43" fill="#263ea8" shape-rendering="crispEdges"/>
<rect x="753.82" y="439.88" width="7.18" height="3.43" fill="#263ea8" shape-rendering="crispEdges"/>
<rect x="753.82" y="436.45" width="7.18" height="3.43" fill="#263ea8" shape-rendering="crispEdges"/>
<rect x="287.12" y="621.46" width="7.18" height="3.43" fill="#263ea8" shape-rendering="crispEdges"/>
<rect x="445.08" y="737.94" width="7.18" height="3.43" fill="#263ea8" shape-rendering="crispEdges"/>
<rect x="251.22" y="768.77" width="7.18" height="3.43" fill="#263ea8" shape-rendering="crispEdges"/>
<rect x="43.0" y="429.6" width="718.00" height="342.60" fill="none" stroke="#555" stroke-width="1.2"/>
<path d="M57.36 772.20V767.06 M43.00 765.35H53.77 M71.72 772.20V767.06 M43.00 758.50H53.77 M86.08 772.20V767.06 M43.00 751.64H53.77 M100.44 772.20V767.06 M43.00 744.79H53.77 M114.80 772.20V761.92 M43.00 737.94H64.54 M129.16 772.20V767.06 M43.00 731.09H53.77 M143.52 772.20V767.06 M43.00 724.24H53.77 M157.88 772.20V767.06 M43.00 717.38H53.77 M172.24 772.20V767.06 M43.00 710.53H53.77 M186.60 772.20V761.92 M43.00 703.68H64.54 M200.96 772.20V767.06 M43.00 696.83H53.77 M215.32 772.20V767.06 M43.00 689.98H53.77 M229.68 772.20V767.06 M43.00 683.12H53.77 M244.04 772.20V767.06 M43.00 676.27H53.77 M258.40 772.20V761.92 M43.00 669.42H64.54 M272.76 772.20V767.06 M43.00 662.57H53.77 M287.12 772.20V767.06 M43.00 655.72H53.77 M301.48 772.20V767.06 M43.00 648.86H53.77 M315.84 772.20V767.06 M43.00 642.01H53.77 M330.20 772.20V761.92 M43.00 635.16H64.54 M344.56 772.20V767.06 M43.00 628.31H53.77 M358.92 772.20V767.06 M43.00 621.46H53.77 M373.28 772.20V767.06 M43.00 614.60H53.77 M387.64 772.20V767.06 M43.00 607.75H53.77 M402.00 772.20V761.92 M43.00 600.90H64.54 M416.36 772.20V767.06 M43.00 594.05H53.77 M430.72 772.20V767.06 M43.00 587.20H53.77 M445.08 772.20V767.06 M43.00 580.34H53.77 M459.44 772.20V767.06 M43.00 573.49H53.77 M473.80 772.20V761.92 M43.00 566.64H64.54 M488.16 772.20V767.06 M43.00 559.79H53.77 M502.52 772.20V767.06 M43.00 552.94H53.77 M516.88 772.20V767.06 M43.00 546.08H53.77 M531.24 772.20V767.06 M43.00 539.23H53.77 M545.60 772.20V761.92 M43.00 532.38H64.54 M559.96 772.20V767.06 M43.00 525.53H53.77 M574.32 772.20V767.06 M43.00 518.68H53.77 M588.68 772.20V767.06 M43.00 511.82H53.77 M603.04 772.20V767.06 M43.00 504.97H53.77 M617.40 772.20V761.92 M43.00 498.12H64.54 M631.76 772.20V767.06 M43.00 491.27H53.77 M646.12 772.20V767.06 M43.00 484.42H53.77 M660.48 772.20V767.06 M43.00 477.56H53.77 M674.84 772.20V767.06 M43.00 470.71H53.77 M689.20 772.20V761.92 M43.00 463.86H64.54 M703.56 772.20V767.06 M43.00 457.01H53.77 M717.92 772.20V767.06 M43.00 450.16H53.77 M732.28 772.20V767.06 M43.00 443.30H53.77 M746.64 772.20V767.06 M43.00 436.45H53.77" stroke="#222" stroke-width="1" fill="none"/>
<text x="43.00" y="785.80" text-anchor="middle" class="t">0</text>
<text x="37.40" y="777.80" text-anchor="end" class="t">0</text>
<text x="114.80" y="785.80" text-anchor="middle" class="t">1</text>
<text x="37.40" y="743.54" text-anchor="end" class="t">1</text>
<text x="186.60" y="785.80" text-anchor="middle" class="t">2</text>
<text x="37.40" y="709.28" text-anchor="end" class="t">2</text>
<text x="258.40" y="785.80" text-anchor="middle" class="t">3</text>
<text x="37.40" y="675.02" text-anchor="end" class="t">3</text>
<text x="330.20" y="785.80" text-anchor="middle" class="t">4</text>
<text x="37.40" y="640.76" text-anchor="end" class="t">4</text>
<text x="402.00" y="785.80" text-anchor="middle" class="t">5</text>
<text x="37.40" y="606.50" text-anchor="end" class="t">5</text>
<text x="473.80" y="785.80" text-anchor="middle" class="t">6</text>
<text x="37.40" y="572.24" text-anchor="end" class="t">6</text>
<text x="545.60" y="785.80" text-anchor="middle" class="t">7</text>
<text x="37.40" y="537.98" text-anchor="end" class="t">7</text>
<text x="617.40" y="785.80" text-anchor="middle" class="t">8</text>
<text x="37.40" y="503.72" text-anchor="end" class="t">8</text>
<text x="689.20" y="785.80" text-anchor="middle" class="t">9</text>
<text x="37.40" y="469.46" text-anchor="end" class="t">9</text>
<text x="761.00" y="785.80" text-anchor="middle" class="t">10</text>
<text x="37.40" y="435.20" text-anchor="end" class="t">10</text>
<text x="408.00" y="805.20" textLength="299" lengthAdjust="spacingAndGlyphs" class="ti">Recovered Total Deposited Energy</text>
<text x="709.70" y="805.20" textLength="53.3" lengthAdjust="spacingAndGlyphs" class="ti">(MeV)</text>
<text transform="translate(15.30,620.30) rotate(-90)" textLength="135.3" lengthAdjust="spacingAndGlyphs" class="ti">Primary Energy</text>
<text transform="translate(15.30,482.20) rotate(-90)" textLength="52.2" lengthAdjust="spacingAndGlyphs" class="ti">(MeV)</text>
<rect x="765.8" y="755.07" width="40.00" height="17.43" fill="#263ea8" shape-rendering="crispEdges"/>
<rect x="765.8" y="737.94" width="40.00" height="17.43" fill="#1652cd" shape-rendering="crispEdges"/>
<rect x="765.8" y="720.81" width="40.00" height="17.43" fill="#1064dc" shape-rendering="crispEdges"/>
<rect x="765.8" y="703.68" width="40.00" height="17.43" fill="#1272d9" shape-rendering="crispEdges"/>
<rect x="765.8" y="686.55" width="40.00" height="17.43" fill="#1481d6" shape-rendering="crispEdges"/>
<rect x="765.8" y="669.42" width="40.00" height="17.43" fill="#0e8fd1" shape-rendering="crispEdges"/>
<rect x="765.8" y="652.29" width="40.00" height="17.43" fill="#099dcc" shape-rendering="crispEdges"/>
<rect x="765.8" y="635.16" width="40.00" height="17.43" fill="#0da7c3" shape-rendering="crispEdges"/>
<rect x="765.8" y="618.03" width="40.00" height="17.43" fill="#1eafb3" shape-rendering="crispEdges"/>
<rect x="765.8" y="600.90" width="40.00" height="17.43" fill="#2eb7a4" shape-rendering="crispEdges"/>
<rect x="765.8" y="583.77" width="40.00" height="17.43" fill="#52ba92" shape-rendering="crispEdges"/>
<rect x="765.8" y="566.64" width="40.00" height="17.43" fill="#74bd81" shape-rendering="crispEdges"/>
<rect x="765.8" y="549.51" width="40.00" height="17.43" fill="#95be71" shape-rendering="crispEdges"/>
<rect x="765.8" y="532.38" width="40.00" height="17.43" fill="#b3bd65" shape-rendering="crispEdges"/>
<rect x="765.8" y="515.25" width="40.00" height="17.43" fill="#d1bb59" shape-rendering="crispEdges"/>
<rect x="765.8" y="498.12" width="40.00" height="17.43" fill="#e2c04b" shape-rendering="crispEdges"/>
<rect x="765.8" y="480.99" width="40.00" height="17.43" fill="#f4c63b" shape-rendering="crispEdges"/>
<rect x="765.8" y="463.86" width="40.00" height="17.43" fill="#fdd22b" shape-rendering="crispEdges"/>
<rect x="765.8" y="446.73" width="40.00" height="17.43" fill="#fbe61d" shape-rendering="crispEdges"/>
<rect x="765.8" y="429.60" width="40.00" height="17.43" fill="#f9f90f" shape-rendering="crispEdges"/>
<path d="M805.80 429.6V772.2" stroke="#333" stroke-width="1.2"/>
<text x="810.40" y="776.70" class="t">0</text>
<text x="810.40" y="731.86" class="t">50</text>
<text x="810.40" y="687.01" class="t">100</text>
<text x="810.40" y="642.17" class="t">150</text>
<text x="810.40" y="597.33" class="t">200</text>
<text x="810.40" y="552.49" class="t">250</text>
<text x="810.40" y="507.64" class="t">300</text>
<text x="810.40" y="462.80" class="t">350</text>
<path d="M805.80 772.20H784.30 M805.80 727.36H784.30 M805.80 682.51H784.30 M805.80 637.67H784.30 M805.80 592.83H784.30 M805.80 547.99H784.30 M805.80 503.14H784.30 M805.80 458.30H784.30" stroke="#222" stroke-width="1" fill="none"/>
<text x="82.2" y="470.2" textLength="27.9" lengthAdjust="spacingAndGlyphs" class="lb">(c)</text>
<rect x="918.50" y="768.77" width="14.35" height="3.43" fill="#1652cd" shape-rendering="crispEdges"/>
<rect x="947.19" y="755.07" width="7.17" height="3.43" fill="#263ea8" shape-rendering="crispEdges"/>
<rect x="947.19" y="751.64" width="7.17" height="3.43" fill="#263ea8" shape-rendering="crispEdges"/>
<rect x="954.37" y="751.64" width="7.17" height="3.43" fill="#1064dc" shape-rendering="crispEdges"/>
<rect x="961.54" y="748.22" width="7.17" height="3.43" fill="#1272d9" shape-rendering="crispEdges"/>
<rect x="968.71" y="744.79" width="7.17" height="3.43" fill="#f9f90f" shape-rendering="crispEdges"/>
<rect x="975.88" y="741.37" width="7.17" height="3.43" fill="#099dcc" shape-rendering="crispEdges"/>
<rect x="983.06" y="741.37" width="7.17" height="3.43" fill="#263ea8" shape-rendering="crispEdges"/>
<rect x="983.06" y="737.94" width="7.17" height="3.43" fill="#52ba92" shape-rendering="crispEdges"/>
<rect x="990.23" y="737.94" width="7.17" height="3.43" fill="#263ea8" shape-rendering="crispEdges"/>
<rect x="990.23" y="734.51" width="7.17" height="3.43" fill="#52ba92" shape-rendering="crispEdges"/>
<rect x="997.40" y="731.09" width="7.17" height="3.43" fill="#0e8fd1" shape-rendering="crispEdges"/>
<rect x="997.40" y="727.66" width="7.17" height="3.43" fill="#263ea8" shape-rendering="crispEdges"/>
<rect x="1004.58" y="727.66" width="7.17" height="3.43" fill="#0da7c3" shape-rendering="crispEdges"/>
<rect x="1011.75" y="727.66" width="7.17" height="3.43" fill="#263ea8" shape-rendering="crispEdges"/>
<rect x="1011.75" y="724.24" width="7.17" height="3.43" fill="#1eafb3" shape-rendering="crispEdges"/>
<rect x="1018.92" y="724.24" width="7.17" height="3.43" fill="#263ea8" shape-rendering="crispEdges"/>
<rect x="1018.92" y="720.81" width="7.17" height="3.43" fill="#1272d9" shape-rendering="crispEdges"/>
<rect x="1026.10" y="720.81" width="7.17" height="3.43" fill="#263ea8" shape-rendering="crispEdges"/>
<rect x="1026.10" y="717.38" width="7.17" height="3.43" fill="#099dcc" shape-rendering="crispEdges"/>
<rect x="1033.27" y="713.96" width="7.17" height="3.43" fill="#1272d9" shape-rendering="crispEdges"/>
<rect x="1040.44" y="710.53" width="7.17" height="3.43" fill="#099dcc" shape-rendering="crispEdges"/>
<rect x="1047.61" y="707.11" width="7.17" height="3.43" fill="#1272d9" shape-rendering="crispEdges"/>
<rect x="1054.79" y="703.68" width="7.17" height="3.43" fill="#1eafb3" shape-rendering="crispEdges"/>
<rect x="1061.96" y="700.25" width="7.17" height="3.43" fill="#0e8fd1" shape-rendering="crispEdges"/>
<rect x="1061.96" y="703.68" width="7.17" height="3.43" fill="#263ea8" shape-rendering="crispEdges"/>
<rect x="1069.13" y="693.40" width="7.17" height="3.43" fill="#263ea8" shape-rendering="crispEdges"/>
<rect x="1069.13" y="696.83" width="7.17" height="3.43" fill="#52ba92" shape-rendering="crispEdges"/>
<rect x="1076.31" y="689.98" width="7.17" height="3.43" fill="#263ea8" shape-rendering="crispEdges"/>
<rect x="1076.31" y="693.40" width="7.17" height="3.43" fill="#099dcc" shape-rendering="crispEdges"/>
<rect x="1076.31" y="696.83" width="7.17" height="3.43" fill="#263ea8" shape-rendering="crispEdges"/>
<rect x="1083.48" y="686.55" width="7.17" height="3.43" fill="#263ea8" shape-rendering="crispEdges"/>
<rect x="1083.48" y="689.98" width="7.17" height="3.43" fill="#52ba92" shape-rendering="crispEdges"/>
<rect x="1083.48" y="693.40" width="7.17" height="3.43" fill="#263ea8" shape-rendering="crispEdges"/>
<rect x="1090.65" y="686.55" width="7.17" height="3.43" fill="#1481d6" shape-rendering="crispEdges"/>
<rect x="1097.83" y="683.12" width="7.17" height="3.43" fill="#0e8fd1" shape-rendering="crispEdges"/>
<rect x="1097.83" y="686.55" width="7.17" height="3.43" fill="#263ea8" shape-rendering="crispEdges"/>
<rect x="1105.00" y="679.70" width="7.17" height="3.43" fill="#1272d9" shape-rendering="crispEdges"/>
<rect x="1105.00" y="683.12" width="7.17" height="3.43" fill="#263ea8" shape-rendering="crispEdges"/>
<rect x="1112.17" y="672.85" width="7.17" height="3.43" fill="#263ea8" shape-rendering="crispEdges"/>
<rect x="1112.17" y="676.27" width="7.17" height="3.43" fill="#1481d6" shape-rendering="crispEdges"/>
<rect x="1119.34" y="672.85" width="7.17" height="3.43" fill="#1272d9" shape-rendering="crispEdges"/>
<rect x="1126.52" y="669.42" width="7.17" height="3.43" fill="#1272d9" shape-rendering="crispEdges"/>
<rect x="1133.69" y="665.99" width="7.17" height="3.43" fill="#1272d9" shape-rendering="crispEdges"/>
<rect x="1140.86" y="659.14" width="7.17" height="3.43" fill="#263ea8" shape-rendering="crispEdges"/>
<rect x="1140.86" y="662.57" width="7.17" height="3.43" fill="#0e8fd1" shape-rendering="crispEdges"/>
<rect x="1148.04" y="659.14" width="7.17" height="3.43" fill="#099dcc" shape-rendering="crispEdges"/>
<rect x="1148.04" y="662.57" width="7.17" height="3.43" fill="#263ea8" shape-rendering="crispEdges"/>
<rect x="1155.21" y="655.72" width="7.17" height="3.43" fill="#1272d9" shape-rendering="crispEdges"/>
<rect x="1155.21" y="659.14" width="7.17" height="3.43" fill="#263ea8" shape-rendering="crispEdges"/>
<rect x="1162.38" y="648.86" width="7.17" height="3.43" fill="#263ea8" shape-rendering="crispEdges"/>
<rect x="1162.38" y="652.29" width="7.17" height="3.43" fill="#1272d9" shape-rendering="crispEdges"/>
<rect x="1162.38" y="655.72" width="7.17" height="3.43" fill="#263ea8" shape-rendering="crispEdges"/>
<rect x="1162.38" y="662.57" width="7.17" height="3.43" fill="#263ea8" shape-rendering="crispEdges"/>
<rect x="1169.56" y="648.86" width="7.17" height="3.43" fill="#1272d9" shape-rendering="crispEdges"/>
<rect x="1176.73" y="645.44" width="7.17" height="3.43" fill="#0e8fd1" shape-rendering="crispEdges"/>
<rect x="1176.73" y="648.86" width="7.17" height="3.43" fill="#263ea8" shape-rendering="crispEdges"/>
<rect x="1183.90" y="642.01" width="7.17" height="3.43" fill="#1272d9" shape-rendering="crispEdges"/>
<rect x="1183.90" y="642.01" width="7.17" height="3.43" fill="#1481d6" shape-rendering="crispEdges"/>
<rect x="1191.07" y="642.01" width="7.17" height="3.43" fill="#263ea8" shape-rendering="crispEdges"/>
<rect x="1191.07" y="638.59" width="7.17" height="3.43" fill="#263ea8" shape-rendering="crispEdges"/>
<rect x="1198.25" y="635.16" width="7.17" height="3.43" fill="#1064dc" shape-rendering="crispEdges"/>
<rect x="1205.42" y="631.73" width="7.17" height="3.43" fill="#1064dc" shape-rendering="crispEdges"/>
<rect x="1205.42" y="635.16" width="7.17" height="3.43" fill="#263ea8" shape-rendering="crispEdges"/>
<rect x="1212.59" y="631.73" width="7.17" height="3.43" fill="#263ea8" shape-rendering="crispEdges"/>
<rect x="1212.59" y="628.31" width="7.17" height="3.43" fill="#263ea8" shape-rendering="crispEdges"/>
<rect x="1219.77" y="624.88" width="7.17" height="3.43" fill="#1064dc" shape-rendering="crispEdges"/>
<rect x="1219.77" y="628.31" width="7.17" height="3.43" fill="#263ea8" shape-rendering="crispEdges"/>
<rect x="1226.94" y="621.46" width="7.17" height="3.43" fill="#0e8fd1" shape-rendering="crispEdges"/>
<rect x="1234.11" y="618.03" width="7.17" height="3.43" fill="#fdd22b" shape-rendering="crispEdges"/>
<rect x="1234.11" y="621.46" width="7.17" height="3.43" fill="#263ea8" shape-rendering="crispEdges"/>
<rect x="1241.28" y="611.18" width="7.17" height="3.43" fill="#263ea8" shape-rendering="crispEdges"/>
<rect x="1241.28" y="614.60" width="7.17" height="3.43" fill="#099dcc" shape-rendering="crispEdges"/>
<rect x="1241.28" y="618.03" width="7.17" height="3.43" fill="#263ea8" shape-rendering="crispEdges"/>
<rect x="1248.46" y="607.75" width="7.17" height="3.43" fill="#263ea8" shape-rendering="crispEdges"/>
<rect x="1248.46" y="611.18" width="7.17" height="3.43" fill="#1064dc" shape-rendering="crispEdges"/>
<rect x="1255.63" y="607.75" width="7.17" height="3.43" fill="#1652cd" shape-rendering="crispEdges"/>
<rect x="1262.80" y="604.33" width="7.17" height="3.43" fill="#1064dc" shape-rendering="crispEdges"/>
<rect x="1269.98" y="600.90" width="7.17" height="3.43" fill="#1064dc" shape-rendering="crispEdges"/>
<rect x="1269.98" y="604.33" width="7.17" height="3.43" fill="#263ea8" shape-rendering="crispEdges"/>
<rect x="1277.15" y="597.47" width="7.17" height="3.43" fill="#1064dc" shape-rendering="crispEdges"/>
<rect x="1277.15" y="600.90" width="7.17" height="3.43" fill="#263ea8" shape-rendering="crispEdges"/>
<rect x="1284.32" y="594.05" width="7.17" height="3.43" fill="#1064dc" shape-rendering="crispEdges"/>
<rect x="1291.50" y="587.20" width="7.17" height="3.43" fill="#263ea8" shape-rendering="crispEdges"/>
<rect x="1291.50" y="590.62" width="7.17" height="3.43" fill="#1064dc" shape-rendering="crispEdges"/>
<rect x="1291.50" y="594.05" width="7.17" height="3.43" fill="#263ea8" shape-rendering="crispEdges"/>
<rect x="1298.67" y="587.20" width="7.17" height="3.43" fill="#1064dc" shape-rendering="crispEdges"/>
<rect x="1305.84" y="580.34" width="7.17" height="3.43" fill="#263ea8" shape-rendering="crispEdges"/>
<rect x="1305.84" y="583.77" width="7.17" height="3.43" fill="#1064dc" shape-rendering="crispEdges"/>
<rect x="1313.01" y="580.34" width="7.17" height="3.43" fill="#1652cd" shape-rendering="crispEdges"/>
<rect x="1313.01" y="573.49" width="7.17" height="3.43" fill="#263ea8" shape-rendering="crispEdges"/>
<rect x="1320.19" y="573.49" width="7.17" height="3.43" fill="#263ea8" shape-rendering="crispEdges"/>
<rect x="1320.19" y="576.92" width="7.17" height="3.43" fill="#1652cd" shape-rendering="crispEdges"/>
<rect x="1327.36" y="573.49" width="7.17" height="3.43" fill="#1064dc" shape-rendering="crispEdges"/>
<rect x="1327.36" y="576.92" width="7.17" height="3.43" fill="#263ea8" shape-rendering="crispEdges"/>
<rect x="1334.53" y="570.07" width="7.17" height="3.43" fill="#1064dc" shape-rendering="crispEdges"/>
<rect x="1334.53" y="573.49" width="7.17" height="3.43" fill="#263ea8" shape-rendering="crispEdges"/>
<rect x="1341.71" y="570.07" width="7.17" height="3.43" fill="#263ea8" shape-rendering="crispEdges"/>
<rect x="1341.71" y="566.64" width="7.17" height="3.43" fill="#263ea8" shape-rendering="crispEdges"/>
<rect x="1341.71" y="563.21" width="7.17" height="3.43" fill="#263ea8" shape-rendering="crispEdges"/>
<rect x="1341.71" y="556.36" width="7.17" height="3.43" fill="#263ea8" shape-rendering="crispEdges"/>
<rect x="1348.88" y="563.21" width="7.17" height="3.43" fill="#263ea8" shape-rendering="crispEdges"/>
<rect x="1348.88" y="559.79" width="7.17" height="3.43" fill="#263ea8" shape-rendering="crispEdges"/>
<rect x="1356.05" y="559.79" width="7.17" height="3.43" fill="#1481d6" shape-rendering="crispEdges"/>
<rect x="1363.23" y="552.94" width="7.17" height="3.43" fill="#263ea8" shape-rendering="crispEdges"/>
<rect x="1363.23" y="556.36" width="7.17" height="3.43" fill="#0e8fd1" shape-rendering="crispEdges"/>
<rect x="1370.40" y="552.94" width="7.17" height="3.43" fill="#1064dc" shape-rendering="crispEdges"/>
<rect x="1377.57" y="549.51" width="7.17" height="3.43" fill="#1652cd" shape-rendering="crispEdges"/>
<rect x="1384.74" y="546.08" width="7.17" height="3.43" fill="#1652cd" shape-rendering="crispEdges"/>
<rect x="1391.92" y="542.66" width="7.17" height="3.43" fill="#263ea8" shape-rendering="crispEdges"/>
<rect x="1391.92" y="539.23" width="7.17" height="3.43" fill="#263ea8" shape-rendering="crispEdges"/>
<rect x="1399.09" y="539.23" width="7.17" height="3.43" fill="#1064dc" shape-rendering="crispEdges"/>
<rect x="1406.26" y="535.81" width="7.17" height="3.43" fill="#263ea8" shape-rendering="crispEdges"/>
<rect x="1413.44" y="532.38" width="7.17" height="3.43" fill="#263ea8" shape-rendering="crispEdges"/>
<rect x="1413.44" y="528.95" width="7.17" height="3.43" fill="#263ea8" shape-rendering="crispEdges"/>
<rect x="1420.61" y="528.95" width="7.17" height="3.43" fill="#1064dc" shape-rendering="crispEdges"/>
<rect x="1427.78" y="525.53" width="7.17" height="3.43" fill="#1652cd" shape-rendering="crispEdges"/>
<rect x="1434.96" y="522.10" width="7.17" height="3.43" fill="#1652cd" shape-rendering="crispEdges"/>
<rect x="1442.13" y="518.68" width="7.17" height="3.43" fill="#263ea8" shape-rendering="crispEdges"/>
<rect x="1442.13" y="515.25" width="7.17" height="3.43" fill="#263ea8" shape-rendering="crispEdges"/>
<rect x="1449.30" y="515.25" width="7.17" height="3.43" fill="#263ea8" shape-rendering="crispEdges"/>
<rect x="1456.47" y="511.82" width="7.17" height="3.43" fill="#1652cd" shape-rendering="crispEdges"/>
<rect x="1456.47" y="508.40" width="7.17" height="3.43" fill="#263ea8" shape-rendering="crispEdges"/>
<rect x="1463.65" y="508.40" width="7.17" height="3.43" fill="#263ea8" shape-rendering="crispEdges"/>
<rect x="1463.65" y="494.69" width="7.17" height="3.43" fill="#263ea8" shape-rendering="crispEdges"/>
<rect x="1470.82" y="504.97" width="7.17" height="3.43" fill="#263ea8" shape-rendering="crispEdges"/>
<rect x="1470.82" y="498.12" width="7.17" height="3.43" fill="#263ea8" shape-rendering="crispEdges"/>
<rect x="1477.99" y="501.55" width="7.17" height="3.43" fill="#263ea8" shape-rendering="crispEdges"/>
<rect x="1485.17" y="498.12" width="7.17" height="3.43" fill="#263ea8" shape-rendering="crispEdges"/>
<rect x="1485.17" y="494.69" width="7.17" height="3.43" fill="#263ea8" shape-rendering="crispEdges"/>
<rect x="1499.51" y="491.27" width="7.17" height="3.43" fill="#1064dc" shape-rendering="crispEdges"/>
<rect x="1506.69" y="487.84" width="7.17" height="3.43" fill="#263ea8" shape-rendering="crispEdges"/>
<rect x="1513.86" y="484.42" width="7.17" height="3.43" fill="#263ea8" shape-rendering="crispEdges"/>
<rect x="1513.86" y="480.99" width="7.17" height="3.43" fill="#263ea8" shape-rendering="crispEdges"/>
<rect x="1521.03" y="480.99" width="7.17" height="3.43" fill="#263ea8" shape-rendering="crispEdges"/>
<rect x="1528.20" y="477.56" width="7.17" height="3.43" fill="#263ea8" shape-rendering="crispEdges"/>
<rect x="1542.55" y="470.71" width="7.17" height="3.43" fill="#263ea8" shape-rendering="crispEdges"/>
<rect x="1549.72" y="467.29" width="7.17" height="3.43" fill="#1652cd" shape-rendering="crispEdges"/>
<rect x="1549.72" y="463.86" width="7.17" height="3.43" fill="#263ea8" shape-rendering="crispEdges"/>
<rect x="1549.72" y="446.73" width="7.17" height="3.43" fill="#263ea8" shape-rendering="crispEdges"/>
<rect x="1556.90" y="463.86" width="7.17" height="3.43" fill="#263ea8" shape-rendering="crispEdges"/>
<rect x="1564.07" y="460.43" width="7.17" height="3.43" fill="#263ea8" shape-rendering="crispEdges"/>
<rect x="1578.42" y="453.58" width="7.17" height="3.43" fill="#263ea8" shape-rendering="crispEdges"/>
<rect x="1585.59" y="439.88" width="7.17" height="3.43" fill="#263ea8" shape-rendering="crispEdges"/>
<rect x="1592.76" y="443.30" width="7.17" height="3.43" fill="#263ea8" shape-rendering="crispEdges"/>
<rect x="1599.93" y="443.30" width="7.17" height="3.43" fill="#263ea8" shape-rendering="crispEdges"/>
<rect x="1607.11" y="439.88" width="7.17" height="3.43" fill="#263ea8" shape-rendering="crispEdges"/>
<rect x="1621.45" y="433.03" width="7.17" height="3.43" fill="#263ea8" shape-rendering="crispEdges"/>
<rect x="1621.45" y="429.60" width="7.17" height="3.43" fill="#263ea8" shape-rendering="crispEdges"/>
<rect x="1628.63" y="429.60" width="7.17" height="3.43" fill="#263ea8" shape-rendering="crispEdges"/>
<rect x="1212.59" y="768.77" width="7.17" height="3.43" fill="#263ea8" shape-rendering="crispEdges"/>
<rect x="918.5" y="429.6" width="717.30" height="342.60" fill="none" stroke="#555" stroke-width="1.2"/>
<path d="M932.85 772.20V767.06 M918.50 765.35H929.26 M947.19 772.20V767.06 M918.50 758.50H929.26 M961.54 772.20V767.06 M918.50 751.64H929.26 M975.88 772.20V767.06 M918.50 744.79H929.26 M990.23 772.20V761.92 M918.50 737.94H940.02 M1004.58 772.20V767.06 M918.50 731.09H929.26 M1018.92 772.20V767.06 M918.50 724.24H929.26 M1033.27 772.20V767.06 M918.50 717.38H929.26 M1047.61 772.20V767.06 M918.50 710.53H929.26 M1061.96 772.20V761.92 M918.50 703.68H940.02 M1076.31 772.20V767.06 M918.50 696.83H929.26 M1090.65 772.20V767.06 M918.50 689.98H929.26 M1105.00 772.20V767.06 M918.50 683.12H929.26 M1119.34 772.20V767.06 M918.50 676.27H929.26 M1133.69 772.20V761.92 M918.50 669.42H940.02 M1148.04 772.20V767.06 M918.50 662.57H929.26 M1162.38 772.20V767.06 M918.50 655.72H929.26 M1176.73 772.20V767.06 M918.50 648.86H929.26 M1191.07 772.20V767.06 M918.50 642.01H929.26 M1205.42 772.20V761.92 M918.50 635.16H940.02 M1219.77 772.20V767.06 M918.50 628.31H929.26 M1234.11 772.20V767.06 M918.50 621.46H929.26 M1248.46 772.20V767.06 M918.50 614.60H929.26 M1262.80 772.20V767.06 M918.50 607.75H929.26 M1277.15 772.20V761.92 M918.50 600.90H940.02 M1291.50 772.20V767.06 M918.50 594.05H929.26 M1305.84 772.20V767.06 M918.50 587.20H929.26 M1320.19 772.20V767.06 M918.50 580.34H929.26 M1334.53 772.20V767.06 M918.50 573.49H929.26 M1348.88 772.20V761.92 M918.50 566.64H940.02 M1363.23 772.20V767.06 M918.50 559.79H929.26 M1377.57 772.20V767.06 M918.50 552.94H929.26 M1391.92 772.20V767.06 M918.50 546.08H929.26 M1406.26 772.20V767.06 M918.50 539.23H929.26 M1420.61 772.20V761.92 M918.50 532.38H940.02 M1434.96 772.20V767.06 M918.50 525.53H929.26 M1449.30 772.20V767.06 M918.50 518.68H929.26 M1463.65 772.20V767.06 M918.50 511.82H929.26 M1477.99 772.20V767.06 M918.50 504.97H929.26 M1492.34 772.20V761.92 M918.50 498.12H940.02 M1506.69 772.20V767.06 M918.50 491.27H929.26 M1521.03 772.20V767.06 M918.50 484.42H929.26 M1535.38 772.20V767.06 M918.50 477.56H929.26 M1549.72 772.20V767.06 M918.50 470.71H929.26 M1564.07 772.20V761.92 M918.50 463.86H940.02 M1578.42 772.20V767.06 M918.50 457.01H929.26 M1592.76 772.20V767.06 M918.50 450.16H929.26 M1607.11 772.20V767.06 M918.50 443.30H929.26 M1621.45 772.20V767.06 M918.50 436.45H929.26" stroke="#222" stroke-width="1" fill="none"/>
<text x="918.50" y="785.80" text-anchor="middle" class="t">0</text>
<text x="912.90" y="777.80" text-anchor="end" class="t">0</text>
<text x="990.23" y="785.80" text-anchor="middle" class="t">1</text>
<text x="912.90" y="743.54" text-anchor="end" class="t">1</text>
<text x="1061.96" y="785.80" text-anchor="middle" class="t">2</text>
<text x="912.90" y="709.28" text-anchor="end" class="t">2</text>
<text x="1133.69" y="785.80" text-anchor="middle" class="t">3</text>
<text x="912.90" y="675.02" text-anchor="end" class="t">3</text>
<text x="1205.42" y="785.80" text-anchor="middle" class="t">4</text>
<text x="912.90" y="640.76" text-anchor="end" class="t">4</text>
<text x="1277.15" y="785.80" text-anchor="middle" class="t">5</text>
<text x="912.90" y="606.50" text-anchor="end" class="t">5</text>
<text x="1348.88" y="785.80" text-anchor="middle" class="t">6</text>
<text x="912.90" y="572.24" text-anchor="end" class="t">6</text>
<text x="1420.61" y="785.80" text-anchor="middle" class="t">7</text>
<text x="912.90" y="537.98" text-anchor="end" class="t">7</text>
<text x="1492.34" y="785.80" text-anchor="middle" class="t">8</text>
<text x="912.90" y="503.72" text-anchor="end" class="t">8</text>
<text x="1564.07" y="785.80" text-anchor="middle" class="t">9</text>
<text x="912.90" y="469.46" text-anchor="end" class="t">9</text>
<text x="1635.80" y="785.80" text-anchor="middle" class="t">10</text>
<text x="912.90" y="435.20" text-anchor="end" class="t">10</text>
<text x="1283.50" y="805.20" textLength="299" lengthAdjust="spacingAndGlyphs" class="ti">Recovered Total Deposited Energy</text>
<text x="1585.20" y="805.20" textLength="53.3" lengthAdjust="spacingAndGlyphs" class="ti">(MeV)</text>
<text transform="translate(890.80,620.30) rotate(-90)" textLength="135.3" lengthAdjust="spacingAndGlyphs" class="ti">Primary Energy</text>
<text transform="translate(890.80,482.20) rotate(-90)" textLength="52.2" lengthAdjust="spacingAndGlyphs" class="ti">(MeV)</text>
<rect x="1640.5" y="755.07" width="40.00" height="17.43" fill="#263ea8" shape-rendering="crispEdges"/>
<rect x="1640.5" y="737.94" width="40.00" height="17.43" fill="#1652cd" shape-rendering="crispEdges"/>
<rect x="1640.5" y="720.81" width="40.00" height="17.43" fill="#1064dc" shape-rendering="crispEdges"/>
<rect x="1640.5" y="703.68" width="40.00" height="17.43" fill="#1272d9" shape-rendering="crispEdges"/>
<rect x="1640.5" y="686.55" width="40.00" height="17.43" fill="#1481d6" shape-rendering="crispEdges"/>
<rect x="1640.5" y="669.42" width="40.00" height="17.43" fill="#0e8fd1" shape-rendering="crispEdges"/>
<rect x="1640.5" y="652.29" width="40.00" height="17.43" fill="#099dcc" shape-rendering="crispEdges"/>
<rect x="1640.5" y="635.16" width="40.00" height="17.43" fill="#0da7c3" shape-rendering="crispEdges"/>
<rect x="1640.5" y="618.03" width="40.00" height="17.43" fill="#1eafb3" shape-rendering="crispEdges"/>
<rect x="1640.5" y="600.90" width="40.00" height="17.43" fill="#2eb7a4" shape-rendering="crispEdges"/>
<rect x="1640.5" y="583.77" width="40.00" height="17.43" fill="#52ba92" shape-rendering="crispEdges"/>
<rect x="1640.5" y="566.64" width="40.00" height="17.43" fill="#74bd81" shape-rendering="crispEdges"/>
<rect x="1640.5" y="549.51" width="40.00" height="17.43" fill="#95be71" shape-rendering="crispEdges"/>
<rect x="1640.5" y="532.38" width="40.00" height="17.43" fill="#b3bd65" shape-rendering="crispEdges"/>
<rect x="1640.5" y="515.25" width="40.00" height="17.43" fill="#d1bb59" shape-rendering="crispEdges"/>
<rect x="1640.5" y="498.12" width="40.00" height="17.43" fill="#e2c04b" shape-rendering="crispEdges"/>
<rect x="1640.5" y="480.99" width="40.00" height="17.43" fill="#f4c63b" shape-rendering="crispEdges"/>
<rect x="1640.5" y="463.86" width="40.00" height="17.43" fill="#fdd22b" shape-rendering="crispEdges"/>
<rect x="1640.5" y="446.73" width="40.00" height="17.43" fill="#fbe61d" shape-rendering="crispEdges"/>
<rect x="1640.5" y="429.60" width="40.00" height="17.43" fill="#f9f90f" shape-rendering="crispEdges"/>
<path d="M1680.50 429.6V772.2" stroke="#333" stroke-width="1.2"/>
<text x="1685.10" y="776.70" class="t">0</text>
<text x="1685.10" y="725.64" class="t">10</text>
<text x="1685.10" y="674.58" class="t">20</text>
<text x="1685.10" y="623.53" class="t">30</text>
<text x="1685.10" y="572.47" class="t">40</text>
<text x="1685.10" y="521.41" class="t">50</text>
<text x="1685.10" y="470.35" class="t">60</text>
<path d="M1680.50 772.20H1659.00 M1680.50 721.14H1659.00 M1680.50 670.08H1659.00 M1680.50 619.03H1659.00 M1680.50 567.97H1659.00 M1680.50 516.91H1659.00 M1680.50 465.85H1659.00" stroke="#222" stroke-width="1" fill="none"/>
<text x="960.2" y="469.7" textLength="28.9" lengthAdjust="spacingAndGlyphs" class="lb">(d)</text>
<text x="73.5" y="149.9" textLength="245" lengthAdjust="spacingAndGlyphs" class="ev">Events with 2 interactions</text>
<text x="945.6" y="149.9" textLength="245" lengthAdjust="spacingAndGlyphs" class="ev">Events with 3 interactions</text>
<text x="70.9" y="573.6" textLength="245" lengthAdjust="spacingAndGlyphs" class="ev">Events with 4 interactions</text>
<text x="945.6" y="573.6" textLength="245" lengthAdjust="spacingAndGlyphs" class="ev">Events with 5 interactions</text>
</svg>
</body></html>
